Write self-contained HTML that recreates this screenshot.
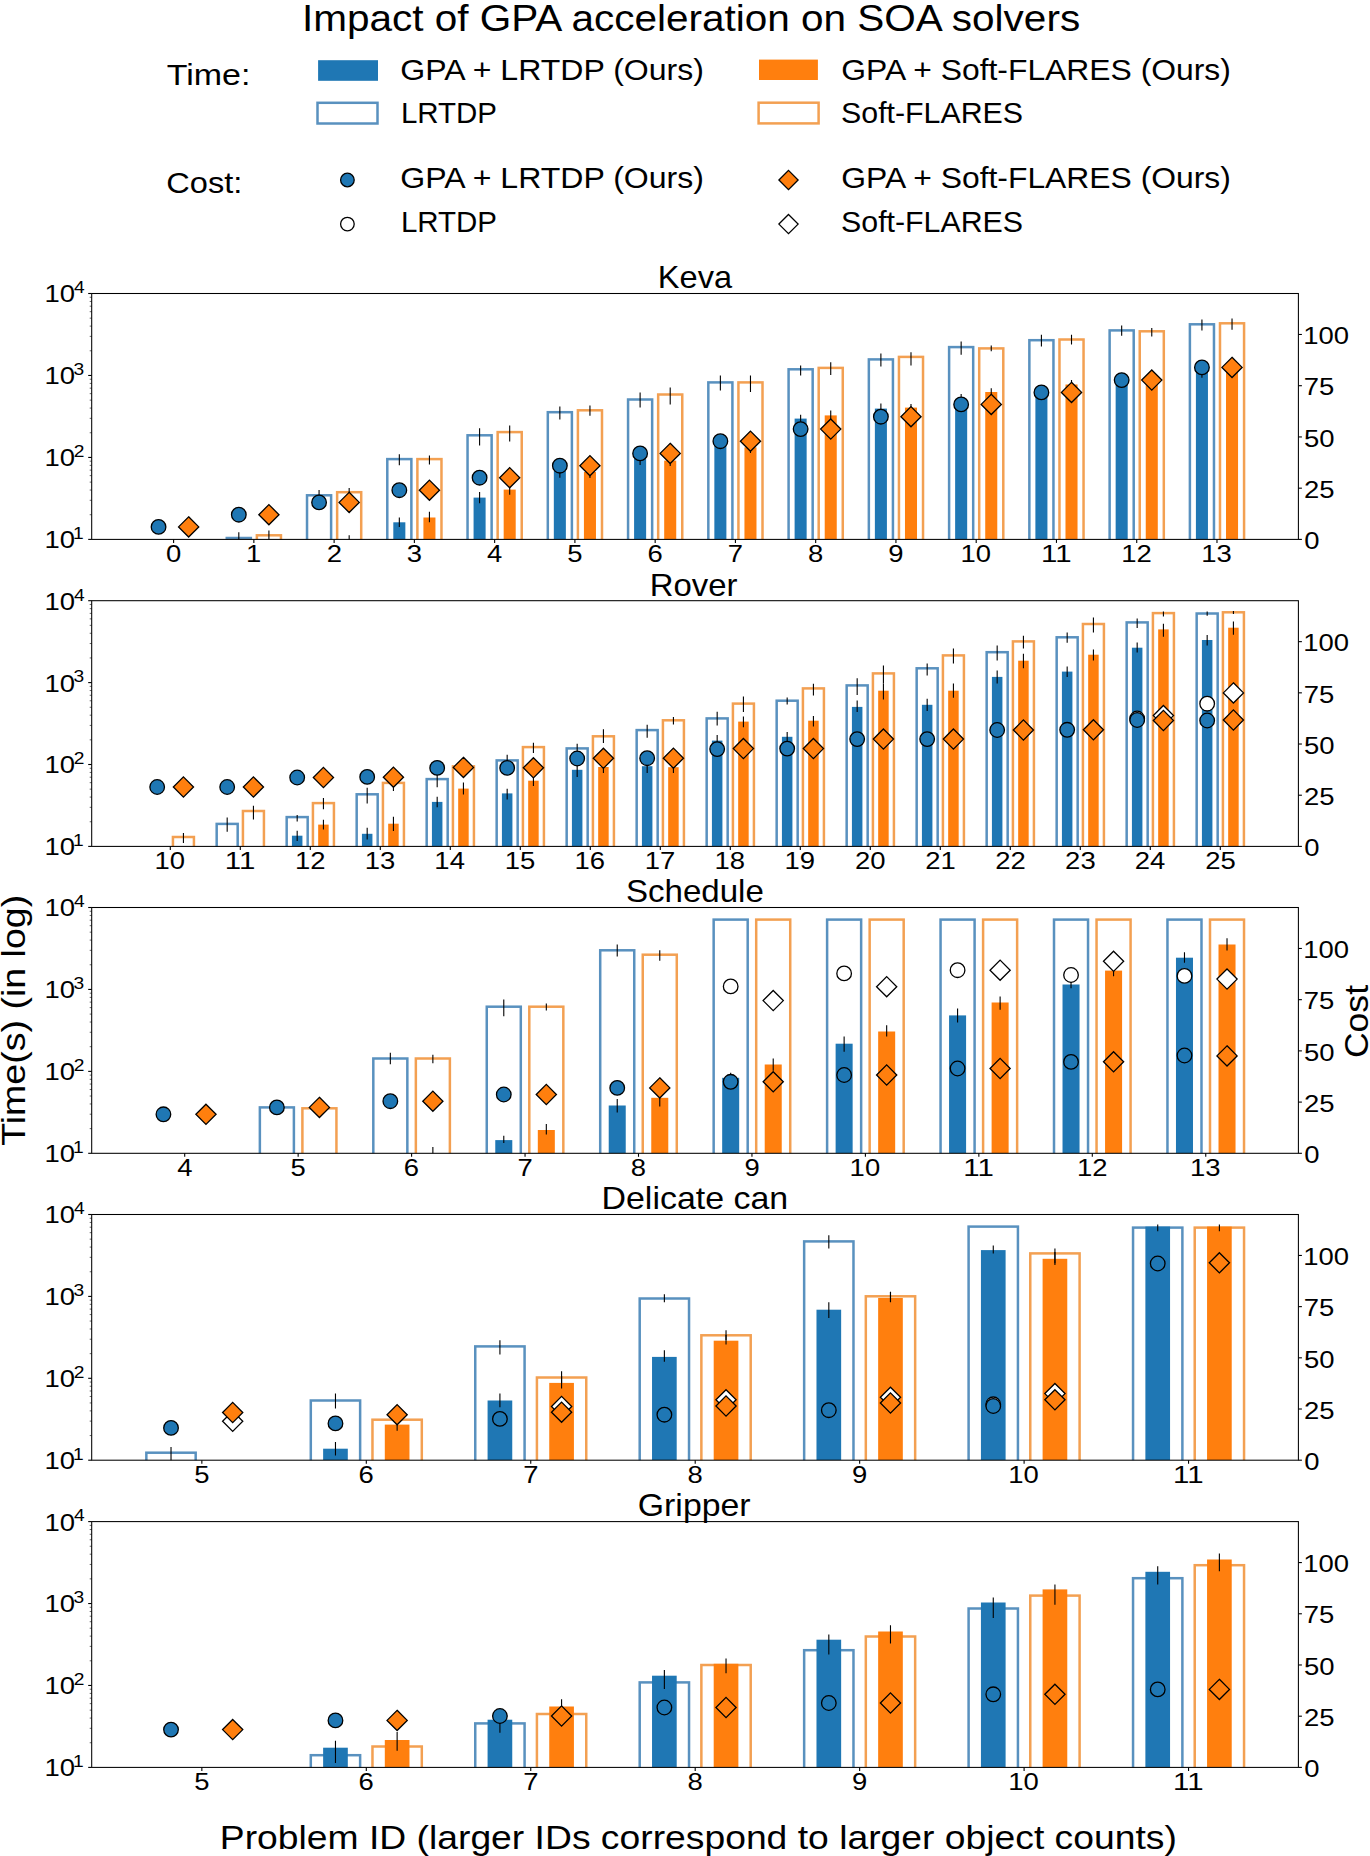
<!DOCTYPE html>
<html><head><meta charset="utf-8"><title>Impact of GPA acceleration on SOA solvers</title>
<style>html,body{margin:0;padding:0;background:#fff;}svg{display:block;}text{font-family:"Liberation Sans",sans-serif;fill:#000;}</style>
</head><body>
<svg width="1370" height="1856" viewBox="0 0 1370 1856">
<rect x="0" y="0" width="1370" height="1856" fill="#fff"/>
<g>
<clipPath id="clip0_293"><rect x="91.7" y="293.5" width="1206.7" height="245.89999999999998"/></clipPath>
<g clip-path="url(#clip0_293)">
<rect x="226.77" y="538.00" width="24.08" height="4.40" fill="none" stroke="#5991bf" stroke-width="2.5"/>
<rect x="256.87" y="535.30" width="24.08" height="7.10" fill="none" stroke="#f3a052" stroke-width="2.5"/>
<rect x="307.03" y="495.30" width="24.08" height="47.10" fill="none" stroke="#5991bf" stroke-width="2.5"/>
<rect x="337.13" y="492.20" width="24.08" height="50.20" fill="none" stroke="#f3a052" stroke-width="2.5"/>
<rect x="387.29" y="459.10" width="24.08" height="83.30" fill="none" stroke="#5991bf" stroke-width="2.5"/>
<rect x="417.39" y="459.10" width="24.08" height="83.30" fill="none" stroke="#f3a052" stroke-width="2.5"/>
<rect x="467.55" y="435.30" width="24.08" height="107.10" fill="none" stroke="#5991bf" stroke-width="2.5"/>
<rect x="497.65" y="432.10" width="24.08" height="110.30" fill="none" stroke="#f3a052" stroke-width="2.5"/>
<rect x="547.81" y="412.20" width="24.08" height="130.20" fill="none" stroke="#5991bf" stroke-width="2.5"/>
<rect x="577.91" y="410.30" width="24.08" height="132.10" fill="none" stroke="#f3a052" stroke-width="2.5"/>
<rect x="628.07" y="399.50" width="24.08" height="142.90" fill="none" stroke="#5991bf" stroke-width="2.5"/>
<rect x="658.17" y="394.50" width="24.08" height="147.90" fill="none" stroke="#f3a052" stroke-width="2.5"/>
<rect x="708.33" y="382.40" width="24.08" height="160.00" fill="none" stroke="#5991bf" stroke-width="2.5"/>
<rect x="738.43" y="382.40" width="24.08" height="160.00" fill="none" stroke="#f3a052" stroke-width="2.5"/>
<rect x="788.59" y="369.30" width="24.08" height="173.10" fill="none" stroke="#5991bf" stroke-width="2.5"/>
<rect x="818.69" y="367.90" width="24.08" height="174.50" fill="none" stroke="#f3a052" stroke-width="2.5"/>
<rect x="868.85" y="359.40" width="24.08" height="183.00" fill="none" stroke="#5991bf" stroke-width="2.5"/>
<rect x="898.95" y="356.90" width="24.08" height="185.50" fill="none" stroke="#f3a052" stroke-width="2.5"/>
<rect x="949.11" y="347.10" width="24.08" height="195.30" fill="none" stroke="#5991bf" stroke-width="2.5"/>
<rect x="979.21" y="348.40" width="24.08" height="194.00" fill="none" stroke="#f3a052" stroke-width="2.5"/>
<rect x="1029.37" y="340.20" width="24.08" height="202.20" fill="none" stroke="#5991bf" stroke-width="2.5"/>
<rect x="1059.47" y="339.50" width="24.08" height="202.90" fill="none" stroke="#f3a052" stroke-width="2.5"/>
<rect x="1109.63" y="330.40" width="24.08" height="212.00" fill="none" stroke="#5991bf" stroke-width="2.5"/>
<rect x="1139.73" y="331.30" width="24.08" height="211.10" fill="none" stroke="#f3a052" stroke-width="2.5"/>
<rect x="1189.89" y="324.30" width="24.08" height="218.10" fill="none" stroke="#5991bf" stroke-width="2.5"/>
<rect x="1219.99" y="323.30" width="24.08" height="219.10" fill="none" stroke="#f3a052" stroke-width="2.5"/>
<rect x="393.31" y="522.30" width="12.04" height="17.10" fill="#1f77b4"/>
<rect x="423.41" y="517.50" width="12.04" height="21.90" fill="#ff7f0e"/>
<rect x="473.57" y="497.60" width="12.04" height="41.80" fill="#1f77b4"/>
<rect x="503.67" y="489.60" width="12.04" height="49.80" fill="#ff7f0e"/>
<rect x="553.83" y="471.00" width="12.04" height="68.40" fill="#1f77b4"/>
<rect x="583.93" y="472.00" width="12.04" height="67.40" fill="#ff7f0e"/>
<rect x="634.09" y="458.70" width="12.04" height="80.70" fill="#1f77b4"/>
<rect x="664.19" y="460.60" width="12.04" height="78.80" fill="#ff7f0e"/>
<rect x="714.35" y="443.50" width="12.04" height="95.90" fill="#1f77b4"/>
<rect x="744.45" y="447.30" width="12.04" height="92.10" fill="#ff7f0e"/>
<rect x="794.61" y="418.60" width="12.04" height="120.80" fill="#1f77b4"/>
<rect x="824.71" y="415.40" width="12.04" height="124.00" fill="#ff7f0e"/>
<rect x="874.87" y="408.60" width="12.04" height="130.80" fill="#1f77b4"/>
<rect x="904.97" y="407.60" width="12.04" height="131.80" fill="#ff7f0e"/>
<rect x="955.13" y="400.00" width="12.04" height="139.40" fill="#1f77b4"/>
<rect x="985.23" y="392.00" width="12.04" height="147.40" fill="#ff7f0e"/>
<rect x="1035.39" y="390.00" width="12.04" height="149.40" fill="#1f77b4"/>
<rect x="1065.49" y="384.50" width="12.04" height="154.90" fill="#ff7f0e"/>
<rect x="1115.65" y="378.00" width="12.04" height="161.40" fill="#1f77b4"/>
<rect x="1145.75" y="378.00" width="12.04" height="161.40" fill="#ff7f0e"/>
<rect x="1195.91" y="370.20" width="12.04" height="169.20" fill="#1f77b4"/>
<rect x="1226.01" y="370.20" width="12.04" height="169.20" fill="#ff7f0e"/>
<line x1="238.81" y1="532.20" x2="238.81" y2="543.00" stroke="#000" stroke-width="1.1"/>
<line x1="268.91" y1="530.40" x2="268.91" y2="541.00" stroke="#000" stroke-width="1.1"/>
<line x1="319.07" y1="490.10" x2="319.07" y2="501.00" stroke="#000" stroke-width="1.1"/>
<line x1="349.17" y1="488.00" x2="349.17" y2="497.50" stroke="#000" stroke-width="1.1"/>
<line x1="349.17" y1="535.20" x2="349.17" y2="541.00" stroke="#000" stroke-width="1.1"/>
<line x1="399.33" y1="454.30" x2="399.33" y2="465.30" stroke="#000" stroke-width="1.1"/>
<line x1="429.43" y1="455.50" x2="429.43" y2="464.40" stroke="#000" stroke-width="1.1"/>
<line x1="399.33" y1="517.50" x2="399.33" y2="527.00" stroke="#000" stroke-width="1.1"/>
<line x1="429.43" y1="511.80" x2="429.43" y2="522.30" stroke="#000" stroke-width="1.1"/>
<line x1="479.59" y1="428.30" x2="479.59" y2="445.40" stroke="#000" stroke-width="1.1"/>
<line x1="509.69" y1="425.50" x2="509.69" y2="441.60" stroke="#000" stroke-width="1.1"/>
<line x1="479.59" y1="491.90" x2="479.59" y2="503.30" stroke="#000" stroke-width="1.1"/>
<line x1="509.69" y1="485.30" x2="509.69" y2="494.70" stroke="#000" stroke-width="1.1"/>
<line x1="559.85" y1="406.50" x2="559.85" y2="419.50" stroke="#000" stroke-width="1.1"/>
<line x1="589.95" y1="405.50" x2="589.95" y2="415.80" stroke="#000" stroke-width="1.1"/>
<line x1="559.85" y1="465.00" x2="559.85" y2="477.70" stroke="#000" stroke-width="1.1"/>
<line x1="589.95" y1="466.00" x2="589.95" y2="478.00" stroke="#000" stroke-width="1.1"/>
<line x1="640.11" y1="392.60" x2="640.11" y2="407.40" stroke="#000" stroke-width="1.1"/>
<line x1="670.21" y1="387.50" x2="670.21" y2="404.60" stroke="#000" stroke-width="1.1"/>
<line x1="640.11" y1="452.00" x2="640.11" y2="465.00" stroke="#000" stroke-width="1.1"/>
<line x1="670.21" y1="455.00" x2="670.21" y2="466.00" stroke="#000" stroke-width="1.1"/>
<line x1="720.37" y1="375.60" x2="720.37" y2="390.40" stroke="#000" stroke-width="1.1"/>
<line x1="750.47" y1="375.60" x2="750.47" y2="391.90" stroke="#000" stroke-width="1.1"/>
<line x1="720.37" y1="438.00" x2="720.37" y2="449.00" stroke="#000" stroke-width="1.1"/>
<line x1="750.47" y1="441.00" x2="750.47" y2="453.00" stroke="#000" stroke-width="1.1"/>
<line x1="800.63" y1="365.50" x2="800.63" y2="375.50" stroke="#000" stroke-width="1.1"/>
<line x1="830.73" y1="362.30" x2="830.73" y2="375.00" stroke="#000" stroke-width="1.1"/>
<line x1="800.63" y1="414.80" x2="800.63" y2="424.00" stroke="#000" stroke-width="1.1"/>
<line x1="830.73" y1="410.50" x2="830.73" y2="421.00" stroke="#000" stroke-width="1.1"/>
<line x1="880.89" y1="353.50" x2="880.89" y2="366.40" stroke="#000" stroke-width="1.1"/>
<line x1="910.99" y1="352.20" x2="910.99" y2="365.50" stroke="#000" stroke-width="1.1"/>
<line x1="880.89" y1="403.40" x2="880.89" y2="414.00" stroke="#000" stroke-width="1.1"/>
<line x1="910.99" y1="404.00" x2="910.99" y2="412.00" stroke="#000" stroke-width="1.1"/>
<line x1="961.15" y1="341.40" x2="961.15" y2="354.70" stroke="#000" stroke-width="1.1"/>
<line x1="991.25" y1="345.50" x2="991.25" y2="351.20" stroke="#000" stroke-width="1.1"/>
<line x1="961.15" y1="394.00" x2="961.15" y2="406.00" stroke="#000" stroke-width="1.1"/>
<line x1="991.25" y1="388.30" x2="991.25" y2="396.00" stroke="#000" stroke-width="1.1"/>
<line x1="1041.41" y1="334.70" x2="1041.41" y2="346.50" stroke="#000" stroke-width="1.1"/>
<line x1="1071.51" y1="334.70" x2="1071.51" y2="344.60" stroke="#000" stroke-width="1.1"/>
<line x1="1041.41" y1="385.00" x2="1041.41" y2="396.00" stroke="#000" stroke-width="1.1"/>
<line x1="1071.51" y1="380.00" x2="1071.51" y2="389.00" stroke="#000" stroke-width="1.1"/>
<line x1="1121.67" y1="325.60" x2="1121.67" y2="335.70" stroke="#000" stroke-width="1.1"/>
<line x1="1151.77" y1="328.10" x2="1151.77" y2="336.40" stroke="#000" stroke-width="1.1"/>
<line x1="1121.67" y1="373.00" x2="1121.67" y2="383.00" stroke="#000" stroke-width="1.1"/>
<line x1="1151.77" y1="373.00" x2="1151.77" y2="383.00" stroke="#000" stroke-width="1.1"/>
<line x1="1201.93" y1="319.50" x2="1201.93" y2="330.40" stroke="#000" stroke-width="1.1"/>
<line x1="1232.03" y1="318.40" x2="1232.03" y2="329.80" stroke="#000" stroke-width="1.1"/>
<line x1="1201.93" y1="364.00" x2="1201.93" y2="377.80" stroke="#000" stroke-width="1.1"/>
<line x1="1232.03" y1="365.00" x2="1232.03" y2="376.00" stroke="#000" stroke-width="1.1"/>
</g>
<circle cx="158.55" cy="526.90" r="7.3" fill="#1f77b4" stroke="#000" stroke-width="1.3"/>
<path d="M188.65 516.80L198.75 526.90L188.65 537.00L178.55 526.90Z" fill="#ff7f0e" stroke="#000" stroke-width="1.3" stroke-linejoin="miter"/>
<circle cx="238.81" cy="514.70" r="7.3" fill="#1f77b4" stroke="#000" stroke-width="1.3"/>
<path d="M268.91 504.60L279.01 514.70L268.91 524.80L258.81 514.70Z" fill="#ff7f0e" stroke="#000" stroke-width="1.3" stroke-linejoin="miter"/>
<circle cx="319.07" cy="502.40" r="7.3" fill="#1f77b4" stroke="#000" stroke-width="1.3"/>
<path d="M349.17 492.30L359.27 502.40L349.17 512.50L339.07 502.40Z" fill="#ff7f0e" stroke="#000" stroke-width="1.3" stroke-linejoin="miter"/>
<circle cx="399.33" cy="490.20" r="7.3" fill="#1f77b4" stroke="#000" stroke-width="1.3"/>
<path d="M429.43 480.10L439.53 490.20L429.43 500.30L419.33 490.20Z" fill="#ff7f0e" stroke="#000" stroke-width="1.3" stroke-linejoin="miter"/>
<circle cx="479.59" cy="477.70" r="7.3" fill="#1f77b4" stroke="#000" stroke-width="1.3"/>
<path d="M509.69 467.60L519.79 477.70L509.69 487.80L499.59 477.70Z" fill="#ff7f0e" stroke="#000" stroke-width="1.3" stroke-linejoin="miter"/>
<circle cx="559.85" cy="465.70" r="7.3" fill="#1f77b4" stroke="#000" stroke-width="1.3"/>
<path d="M589.95 455.60L600.05 465.70L589.95 475.80L579.85 465.70Z" fill="#ff7f0e" stroke="#000" stroke-width="1.3" stroke-linejoin="miter"/>
<circle cx="640.11" cy="453.40" r="7.3" fill="#1f77b4" stroke="#000" stroke-width="1.3"/>
<path d="M670.21 443.30L680.31 453.40L670.21 463.50L660.11 453.40Z" fill="#ff7f0e" stroke="#000" stroke-width="1.3" stroke-linejoin="miter"/>
<circle cx="720.37" cy="441.20" r="7.3" fill="#1f77b4" stroke="#000" stroke-width="1.3"/>
<path d="M750.47 431.10L760.57 441.20L750.47 451.30L740.37 441.20Z" fill="#ff7f0e" stroke="#000" stroke-width="1.3" stroke-linejoin="miter"/>
<circle cx="800.63" cy="429.10" r="7.3" fill="#1f77b4" stroke="#000" stroke-width="1.3"/>
<path d="M830.73 419.00L840.83 429.10L830.73 439.20L820.63 429.10Z" fill="#ff7f0e" stroke="#000" stroke-width="1.3" stroke-linejoin="miter"/>
<circle cx="880.89" cy="416.70" r="7.3" fill="#1f77b4" stroke="#000" stroke-width="1.3"/>
<path d="M910.99 406.60L921.09 416.70L910.99 426.80L900.89 416.70Z" fill="#ff7f0e" stroke="#000" stroke-width="1.3" stroke-linejoin="miter"/>
<circle cx="961.15" cy="404.40" r="7.3" fill="#1f77b4" stroke="#000" stroke-width="1.3"/>
<path d="M991.25 394.30L1001.35 404.40L991.25 414.50L981.15 404.40Z" fill="#ff7f0e" stroke="#000" stroke-width="1.3" stroke-linejoin="miter"/>
<circle cx="1041.41" cy="392.40" r="7.3" fill="#1f77b4" stroke="#000" stroke-width="1.3"/>
<path d="M1071.51 382.30L1081.61 392.40L1071.51 402.50L1061.41 392.40Z" fill="#ff7f0e" stroke="#000" stroke-width="1.3" stroke-linejoin="miter"/>
<circle cx="1121.67" cy="380.10" r="7.3" fill="#1f77b4" stroke="#000" stroke-width="1.3"/>
<path d="M1151.77 370.00L1161.87 380.10L1151.77 390.20L1141.67 380.10Z" fill="#ff7f0e" stroke="#000" stroke-width="1.3" stroke-linejoin="miter"/>
<circle cx="1201.93" cy="367.40" r="7.3" fill="#1f77b4" stroke="#000" stroke-width="1.3"/>
<path d="M1232.03 357.30L1242.13 367.40L1232.03 377.50L1221.93 367.40Z" fill="#ff7f0e" stroke="#000" stroke-width="1.3" stroke-linejoin="miter"/>
<rect x="91.7" y="293.5" width="1206.7" height="245.89999999999998" fill="none" stroke="#000" stroke-width="1.05"/>
<line x1="173.60" y1="539.4" x2="173.60" y2="542.9" stroke="#000" stroke-width="1.1"/>
<text x="165.97" y="562.10" font-size="24.43" textLength="15.27" lengthAdjust="spacingAndGlyphs">0</text>
<line x1="253.86" y1="539.4" x2="253.86" y2="542.9" stroke="#000" stroke-width="1.1"/>
<text x="246.01" y="562.10" font-size="24.43" textLength="15.27" lengthAdjust="spacingAndGlyphs">1</text>
<line x1="334.12" y1="539.4" x2="334.12" y2="542.9" stroke="#000" stroke-width="1.1"/>
<text x="326.81" y="562.10" font-size="24.43" textLength="15.27" lengthAdjust="spacingAndGlyphs">2</text>
<line x1="414.38" y1="539.4" x2="414.38" y2="542.9" stroke="#000" stroke-width="1.1"/>
<text x="406.79" y="562.10" font-size="24.43" textLength="15.27" lengthAdjust="spacingAndGlyphs">3</text>
<line x1="494.64" y1="539.4" x2="494.64" y2="542.9" stroke="#000" stroke-width="1.1"/>
<text x="487.09" y="562.10" font-size="24.43" textLength="15.27" lengthAdjust="spacingAndGlyphs">4</text>
<line x1="574.90" y1="539.4" x2="574.90" y2="542.9" stroke="#000" stroke-width="1.1"/>
<text x="567.39" y="562.10" font-size="24.43" textLength="15.27" lengthAdjust="spacingAndGlyphs">5</text>
<line x1="655.16" y1="539.4" x2="655.16" y2="542.9" stroke="#000" stroke-width="1.1"/>
<text x="647.44" y="562.10" font-size="24.43" textLength="15.27" lengthAdjust="spacingAndGlyphs">6</text>
<line x1="735.42" y1="539.4" x2="735.42" y2="542.9" stroke="#000" stroke-width="1.1"/>
<text x="727.83" y="562.10" font-size="24.43" textLength="15.27" lengthAdjust="spacingAndGlyphs">7</text>
<line x1="815.68" y1="539.4" x2="815.68" y2="542.9" stroke="#000" stroke-width="1.1"/>
<text x="808.05" y="562.10" font-size="24.43" textLength="15.27" lengthAdjust="spacingAndGlyphs">8</text>
<line x1="895.94" y1="539.4" x2="895.94" y2="542.9" stroke="#000" stroke-width="1.1"/>
<text x="888.39" y="562.10" font-size="24.43" textLength="15.27" lengthAdjust="spacingAndGlyphs">9</text>
<line x1="976.20" y1="539.4" x2="976.20" y2="542.9" stroke="#000" stroke-width="1.1"/>
<text x="960.41" y="562.10" font-size="24.43" textLength="30.54" lengthAdjust="spacingAndGlyphs">10</text>
<line x1="1056.46" y1="539.4" x2="1056.46" y2="542.9" stroke="#000" stroke-width="1.1"/>
<text x="1040.98" y="562.10" font-size="24.43" textLength="30.54" lengthAdjust="spacingAndGlyphs">11</text>
<line x1="1136.72" y1="539.4" x2="1136.72" y2="542.9" stroke="#000" stroke-width="1.1"/>
<text x="1121.33" y="562.10" font-size="24.43" textLength="30.54" lengthAdjust="spacingAndGlyphs">12</text>
<line x1="1216.98" y1="539.4" x2="1216.98" y2="542.9" stroke="#000" stroke-width="1.1"/>
<text x="1201.35" y="562.10" font-size="24.43" textLength="30.54" lengthAdjust="spacingAndGlyphs">13</text>
<line x1="88.2" y1="539.40" x2="91.7" y2="539.40" stroke="#000" stroke-width="1.1"/>
<text x="44.56" y="548.30" font-size="24.43" textLength="30.54" lengthAdjust="spacingAndGlyphs">10</text>
<text x="73.05" y="539.20" font-size="17.10" textLength="10.69" lengthAdjust="spacingAndGlyphs">1</text>
<line x1="89.7" y1="514.73" x2="91.7" y2="514.73" stroke="#000" stroke-width="0.6"/>
<line x1="89.7" y1="500.29" x2="91.7" y2="500.29" stroke="#000" stroke-width="0.6"/>
<line x1="89.7" y1="490.05" x2="91.7" y2="490.05" stroke="#000" stroke-width="0.6"/>
<line x1="89.7" y1="482.11" x2="91.7" y2="482.11" stroke="#000" stroke-width="0.6"/>
<line x1="89.7" y1="475.62" x2="91.7" y2="475.62" stroke="#000" stroke-width="0.6"/>
<line x1="89.7" y1="470.13" x2="91.7" y2="470.13" stroke="#000" stroke-width="0.6"/>
<line x1="89.7" y1="465.38" x2="91.7" y2="465.38" stroke="#000" stroke-width="0.6"/>
<line x1="89.7" y1="461.18" x2="91.7" y2="461.18" stroke="#000" stroke-width="0.6"/>
<line x1="88.2" y1="457.43" x2="91.7" y2="457.43" stroke="#000" stroke-width="1.1"/>
<text x="44.56" y="466.33" font-size="24.43" textLength="30.54" lengthAdjust="spacingAndGlyphs">10</text>
<text x="73.67" y="457.23" font-size="17.10" textLength="10.69" lengthAdjust="spacingAndGlyphs">2</text>
<line x1="89.7" y1="432.76" x2="91.7" y2="432.76" stroke="#000" stroke-width="0.6"/>
<line x1="89.7" y1="418.33" x2="91.7" y2="418.33" stroke="#000" stroke-width="0.6"/>
<line x1="89.7" y1="408.08" x2="91.7" y2="408.08" stroke="#000" stroke-width="0.6"/>
<line x1="89.7" y1="400.14" x2="91.7" y2="400.14" stroke="#000" stroke-width="0.6"/>
<line x1="89.7" y1="393.65" x2="91.7" y2="393.65" stroke="#000" stroke-width="0.6"/>
<line x1="89.7" y1="388.16" x2="91.7" y2="388.16" stroke="#000" stroke-width="0.6"/>
<line x1="89.7" y1="383.41" x2="91.7" y2="383.41" stroke="#000" stroke-width="0.6"/>
<line x1="89.7" y1="379.22" x2="91.7" y2="379.22" stroke="#000" stroke-width="0.6"/>
<line x1="88.2" y1="375.47" x2="91.7" y2="375.47" stroke="#000" stroke-width="1.1"/>
<text x="44.56" y="384.37" font-size="24.43" textLength="30.54" lengthAdjust="spacingAndGlyphs">10</text>
<text x="73.62" y="375.27" font-size="17.10" textLength="10.69" lengthAdjust="spacingAndGlyphs">3</text>
<line x1="89.7" y1="350.79" x2="91.7" y2="350.79" stroke="#000" stroke-width="0.6"/>
<line x1="89.7" y1="336.36" x2="91.7" y2="336.36" stroke="#000" stroke-width="0.6"/>
<line x1="89.7" y1="326.12" x2="91.7" y2="326.12" stroke="#000" stroke-width="0.6"/>
<line x1="89.7" y1="318.17" x2="91.7" y2="318.17" stroke="#000" stroke-width="0.6"/>
<line x1="89.7" y1="311.68" x2="91.7" y2="311.68" stroke="#000" stroke-width="0.6"/>
<line x1="89.7" y1="306.20" x2="91.7" y2="306.20" stroke="#000" stroke-width="0.6"/>
<line x1="89.7" y1="301.44" x2="91.7" y2="301.44" stroke="#000" stroke-width="0.6"/>
<line x1="89.7" y1="297.25" x2="91.7" y2="297.25" stroke="#000" stroke-width="0.6"/>
<line x1="88.2" y1="293.50" x2="91.7" y2="293.50" stroke="#000" stroke-width="1.1"/>
<text x="44.56" y="302.40" font-size="24.43" textLength="30.54" lengthAdjust="spacingAndGlyphs">10</text>
<text x="74.08" y="293.30" font-size="17.10" textLength="10.69" lengthAdjust="spacingAndGlyphs">4</text>
<line x1="1298.4" y1="539.40" x2="1301.9" y2="539.40" stroke="#000" stroke-width="1.1"/>
<text x="1304.22" y="549.10" font-size="24.43" textLength="15.27" lengthAdjust="spacingAndGlyphs">0</text>
<line x1="1298.4" y1="488.17" x2="1301.9" y2="488.17" stroke="#000" stroke-width="1.1"/>
<text x="1304.04" y="497.87" font-size="24.43" textLength="30.54" lengthAdjust="spacingAndGlyphs">25</text>
<line x1="1298.4" y1="436.94" x2="1301.9" y2="436.94" stroke="#000" stroke-width="1.1"/>
<text x="1303.95" y="446.64" font-size="24.43" textLength="30.54" lengthAdjust="spacingAndGlyphs">50</text>
<line x1="1298.4" y1="385.71" x2="1301.9" y2="385.71" stroke="#000" stroke-width="1.1"/>
<text x="1303.83" y="395.41" font-size="24.43" textLength="30.54" lengthAdjust="spacingAndGlyphs">75</text>
<line x1="1298.4" y1="334.48" x2="1301.9" y2="334.48" stroke="#000" stroke-width="1.1"/>
<text x="1303.16" y="344.18" font-size="24.43" textLength="45.81" lengthAdjust="spacingAndGlyphs">100</text>
<text x="657.81" y="288.30" font-size="30.54" textLength="74.27" lengthAdjust="spacingAndGlyphs">Keva</text>
</g>
<g>
<clipPath id="clip10_600"><rect x="91.7" y="600.7" width="1206.7" height="245.69999999999993"/></clipPath>
<g clip-path="url(#clip10_600)">
<rect x="172.93" y="837.00" width="21.00" height="12.40" fill="none" stroke="#f3a052" stroke-width="2.5"/>
<rect x="216.68" y="823.90" width="21.00" height="25.50" fill="none" stroke="#5991bf" stroke-width="2.5"/>
<rect x="242.93" y="811.00" width="21.00" height="38.40" fill="none" stroke="#f3a052" stroke-width="2.5"/>
<rect x="286.68" y="817.10" width="21.00" height="32.30" fill="none" stroke="#5991bf" stroke-width="2.5"/>
<rect x="312.93" y="803.10" width="21.00" height="46.30" fill="none" stroke="#f3a052" stroke-width="2.5"/>
<rect x="356.68" y="794.30" width="21.00" height="55.10" fill="none" stroke="#5991bf" stroke-width="2.5"/>
<rect x="382.93" y="782.90" width="21.00" height="66.50" fill="none" stroke="#f3a052" stroke-width="2.5"/>
<rect x="426.68" y="779.10" width="21.00" height="70.30" fill="none" stroke="#5991bf" stroke-width="2.5"/>
<rect x="452.93" y="766.40" width="21.00" height="83.00" fill="none" stroke="#f3a052" stroke-width="2.5"/>
<rect x="496.67" y="760.40" width="21.00" height="89.00" fill="none" stroke="#5991bf" stroke-width="2.5"/>
<rect x="522.92" y="747.10" width="21.00" height="102.30" fill="none" stroke="#f3a052" stroke-width="2.5"/>
<rect x="566.67" y="748.40" width="21.00" height="101.00" fill="none" stroke="#5991bf" stroke-width="2.5"/>
<rect x="592.92" y="736.30" width="21.00" height="113.10" fill="none" stroke="#f3a052" stroke-width="2.5"/>
<rect x="636.67" y="730.10" width="21.00" height="119.30" fill="none" stroke="#5991bf" stroke-width="2.5"/>
<rect x="662.92" y="720.30" width="21.00" height="129.10" fill="none" stroke="#f3a052" stroke-width="2.5"/>
<rect x="706.67" y="718.40" width="21.00" height="131.00" fill="none" stroke="#5991bf" stroke-width="2.5"/>
<rect x="732.92" y="703.60" width="21.00" height="145.80" fill="none" stroke="#f3a052" stroke-width="2.5"/>
<rect x="776.67" y="700.70" width="21.00" height="148.70" fill="none" stroke="#5991bf" stroke-width="2.5"/>
<rect x="802.92" y="688.40" width="21.00" height="161.00" fill="none" stroke="#f3a052" stroke-width="2.5"/>
<rect x="846.67" y="685.40" width="21.00" height="164.00" fill="none" stroke="#5991bf" stroke-width="2.5"/>
<rect x="872.92" y="673.40" width="21.00" height="176.00" fill="none" stroke="#f3a052" stroke-width="2.5"/>
<rect x="916.67" y="668.30" width="21.00" height="181.10" fill="none" stroke="#5991bf" stroke-width="2.5"/>
<rect x="942.92" y="655.40" width="21.00" height="194.00" fill="none" stroke="#f3a052" stroke-width="2.5"/>
<rect x="986.67" y="652.20" width="21.00" height="197.20" fill="none" stroke="#5991bf" stroke-width="2.5"/>
<rect x="1012.92" y="641.40" width="21.00" height="208.00" fill="none" stroke="#f3a052" stroke-width="2.5"/>
<rect x="1056.67" y="637.30" width="21.00" height="212.10" fill="none" stroke="#5991bf" stroke-width="2.5"/>
<rect x="1082.92" y="624.00" width="21.00" height="225.40" fill="none" stroke="#f3a052" stroke-width="2.5"/>
<rect x="1126.67" y="622.40" width="21.00" height="227.00" fill="none" stroke="#5991bf" stroke-width="2.5"/>
<rect x="1152.92" y="613.10" width="21.00" height="236.30" fill="none" stroke="#f3a052" stroke-width="2.5"/>
<rect x="1196.67" y="613.50" width="21.00" height="235.90" fill="none" stroke="#5991bf" stroke-width="2.5"/>
<rect x="1222.92" y="612.30" width="21.00" height="237.10" fill="none" stroke="#f3a052" stroke-width="2.5"/>
<rect x="291.93" y="835.70" width="10.50" height="10.70" fill="#1f77b4"/>
<rect x="318.18" y="824.60" width="10.50" height="21.80" fill="#ff7f0e"/>
<rect x="361.93" y="833.80" width="10.50" height="12.60" fill="#1f77b4"/>
<rect x="388.18" y="823.70" width="10.50" height="22.70" fill="#ff7f0e"/>
<rect x="431.93" y="801.90" width="10.50" height="44.50" fill="#1f77b4"/>
<rect x="458.18" y="788.60" width="10.50" height="57.80" fill="#ff7f0e"/>
<rect x="501.92" y="793.40" width="10.50" height="53.00" fill="#1f77b4"/>
<rect x="528.17" y="780.70" width="10.50" height="65.70" fill="#ff7f0e"/>
<rect x="571.92" y="769.80" width="10.50" height="76.60" fill="#1f77b4"/>
<rect x="598.17" y="767.00" width="10.50" height="79.40" fill="#ff7f0e"/>
<rect x="641.92" y="766.20" width="10.50" height="80.20" fill="#1f77b4"/>
<rect x="668.17" y="767.20" width="10.50" height="79.20" fill="#ff7f0e"/>
<rect x="711.92" y="740.60" width="10.50" height="105.80" fill="#1f77b4"/>
<rect x="738.17" y="721.60" width="10.50" height="124.80" fill="#ff7f0e"/>
<rect x="781.92" y="736.80" width="10.50" height="109.60" fill="#1f77b4"/>
<rect x="808.17" y="720.70" width="10.50" height="125.70" fill="#ff7f0e"/>
<rect x="851.92" y="706.90" width="10.50" height="139.50" fill="#1f77b4"/>
<rect x="878.17" y="690.70" width="10.50" height="155.70" fill="#ff7f0e"/>
<rect x="921.92" y="704.80" width="10.50" height="141.60" fill="#1f77b4"/>
<rect x="948.17" y="690.70" width="10.50" height="155.70" fill="#ff7f0e"/>
<rect x="991.92" y="676.90" width="10.50" height="169.50" fill="#1f77b4"/>
<rect x="1018.17" y="660.70" width="10.50" height="185.70" fill="#ff7f0e"/>
<rect x="1061.92" y="671.60" width="10.50" height="174.80" fill="#1f77b4"/>
<rect x="1088.17" y="654.70" width="10.50" height="191.70" fill="#ff7f0e"/>
<rect x="1131.92" y="647.70" width="10.50" height="198.70" fill="#1f77b4"/>
<rect x="1158.17" y="629.40" width="10.50" height="217.00" fill="#ff7f0e"/>
<rect x="1201.92" y="640.00" width="10.50" height="206.40" fill="#1f77b4"/>
<rect x="1228.17" y="627.70" width="10.50" height="218.70" fill="#ff7f0e"/>
<line x1="183.43" y1="833.00" x2="183.43" y2="843.00" stroke="#000" stroke-width="1.1"/>
<line x1="227.18" y1="817.60" x2="227.18" y2="831.80" stroke="#000" stroke-width="1.1"/>
<line x1="253.43" y1="805.80" x2="253.43" y2="819.40" stroke="#000" stroke-width="1.1"/>
<line x1="297.18" y1="814.90" x2="297.18" y2="821.60" stroke="#000" stroke-width="1.1"/>
<line x1="323.43" y1="797.90" x2="323.43" y2="809.20" stroke="#000" stroke-width="1.1"/>
<line x1="297.18" y1="830.70" x2="297.18" y2="840.90" stroke="#000" stroke-width="1.1"/>
<line x1="323.43" y1="819.80" x2="323.43" y2="829.60" stroke="#000" stroke-width="1.1"/>
<line x1="367.18" y1="787.70" x2="367.18" y2="803.40" stroke="#000" stroke-width="1.1"/>
<line x1="393.43" y1="776.00" x2="393.43" y2="791.00" stroke="#000" stroke-width="1.1"/>
<line x1="367.18" y1="827.70" x2="367.18" y2="839.50" stroke="#000" stroke-width="1.1"/>
<line x1="393.43" y1="816.70" x2="393.43" y2="831.00" stroke="#000" stroke-width="1.1"/>
<line x1="437.18" y1="771.00" x2="437.18" y2="787.30" stroke="#000" stroke-width="1.1"/>
<line x1="463.43" y1="760.00" x2="463.43" y2="773.00" stroke="#000" stroke-width="1.1"/>
<line x1="437.18" y1="796.80" x2="437.18" y2="807.20" stroke="#000" stroke-width="1.1"/>
<line x1="463.43" y1="782.60" x2="463.43" y2="794.50" stroke="#000" stroke-width="1.1"/>
<line x1="507.17" y1="754.70" x2="507.17" y2="766.00" stroke="#000" stroke-width="1.1"/>
<line x1="533.42" y1="742.70" x2="533.42" y2="753.10" stroke="#000" stroke-width="1.1"/>
<line x1="507.17" y1="788.80" x2="507.17" y2="799.60" stroke="#000" stroke-width="1.1"/>
<line x1="533.42" y1="775.00" x2="533.42" y2="786.00" stroke="#000" stroke-width="1.1"/>
<line x1="577.17" y1="743.70" x2="577.17" y2="753.00" stroke="#000" stroke-width="1.1"/>
<line x1="603.42" y1="729.30" x2="603.42" y2="743.00" stroke="#000" stroke-width="1.1"/>
<line x1="577.17" y1="763.00" x2="577.17" y2="776.90" stroke="#000" stroke-width="1.1"/>
<line x1="603.42" y1="761.00" x2="603.42" y2="773.00" stroke="#000" stroke-width="1.1"/>
<line x1="647.17" y1="724.80" x2="647.17" y2="737.70" stroke="#000" stroke-width="1.1"/>
<line x1="673.42" y1="716.90" x2="673.42" y2="724.50" stroke="#000" stroke-width="1.1"/>
<line x1="647.17" y1="759.50" x2="647.17" y2="772.90" stroke="#000" stroke-width="1.1"/>
<line x1="673.42" y1="761.00" x2="673.42" y2="773.00" stroke="#000" stroke-width="1.1"/>
<line x1="717.17" y1="711.70" x2="717.17" y2="725.40" stroke="#000" stroke-width="1.1"/>
<line x1="743.42" y1="696.60" x2="743.42" y2="712.10" stroke="#000" stroke-width="1.1"/>
<line x1="717.17" y1="734.90" x2="717.17" y2="746.00" stroke="#000" stroke-width="1.1"/>
<line x1="743.42" y1="716.50" x2="743.42" y2="727.30" stroke="#000" stroke-width="1.1"/>
<line x1="787.17" y1="697.50" x2="787.17" y2="704.50" stroke="#000" stroke-width="1.1"/>
<line x1="813.42" y1="683.70" x2="813.42" y2="695.40" stroke="#000" stroke-width="1.1"/>
<line x1="787.17" y1="732.00" x2="787.17" y2="742.00" stroke="#000" stroke-width="1.1"/>
<line x1="813.42" y1="715.90" x2="813.42" y2="726.40" stroke="#000" stroke-width="1.1"/>
<line x1="857.17" y1="678.20" x2="857.17" y2="694.90" stroke="#000" stroke-width="1.1"/>
<line x1="883.42" y1="665.50" x2="883.42" y2="683.50" stroke="#000" stroke-width="1.1"/>
<line x1="857.17" y1="700.60" x2="857.17" y2="712.00" stroke="#000" stroke-width="1.1"/>
<line x1="883.42" y1="683.50" x2="883.42" y2="699.60" stroke="#000" stroke-width="1.1"/>
<line x1="927.17" y1="663.60" x2="927.17" y2="675.50" stroke="#000" stroke-width="1.1"/>
<line x1="953.42" y1="648.40" x2="953.42" y2="663.60" stroke="#000" stroke-width="1.1"/>
<line x1="927.17" y1="698.70" x2="927.17" y2="711.00" stroke="#000" stroke-width="1.1"/>
<line x1="953.42" y1="683.50" x2="953.42" y2="697.70" stroke="#000" stroke-width="1.1"/>
<line x1="997.17" y1="645.50" x2="997.17" y2="660.40" stroke="#000" stroke-width="1.1"/>
<line x1="1023.42" y1="635.70" x2="1023.42" y2="648.40" stroke="#000" stroke-width="1.1"/>
<line x1="997.17" y1="670.60" x2="997.17" y2="683.50" stroke="#000" stroke-width="1.1"/>
<line x1="1023.42" y1="653.70" x2="1023.42" y2="668.30" stroke="#000" stroke-width="1.1"/>
<line x1="1067.17" y1="632.60" x2="1067.17" y2="642.70" stroke="#000" stroke-width="1.1"/>
<line x1="1093.42" y1="617.50" x2="1093.42" y2="632.40" stroke="#000" stroke-width="1.1"/>
<line x1="1067.17" y1="666.50" x2="1067.17" y2="677.00" stroke="#000" stroke-width="1.1"/>
<line x1="1093.42" y1="649.60" x2="1093.42" y2="660.40" stroke="#000" stroke-width="1.1"/>
<line x1="1137.17" y1="618.40" x2="1137.17" y2="628.00" stroke="#000" stroke-width="1.1"/>
<line x1="1163.42" y1="611.40" x2="1163.42" y2="616.60" stroke="#000" stroke-width="1.1"/>
<line x1="1137.17" y1="642.60" x2="1137.17" y2="652.60" stroke="#000" stroke-width="1.1"/>
<line x1="1163.42" y1="623.70" x2="1163.42" y2="636.80" stroke="#000" stroke-width="1.1"/>
<line x1="1207.17" y1="611.40" x2="1207.17" y2="615.80" stroke="#000" stroke-width="1.1"/>
<line x1="1233.42" y1="611.00" x2="1233.42" y2="614.00" stroke="#000" stroke-width="1.1"/>
<line x1="1207.17" y1="635.00" x2="1207.17" y2="645.50" stroke="#000" stroke-width="1.1"/>
<line x1="1233.42" y1="621.40" x2="1233.42" y2="634.70" stroke="#000" stroke-width="1.1"/>
</g>
<circle cx="1137.17" cy="718.50" r="7.3" fill="#fff" stroke="#000" stroke-width="1.3"/>
<path d="M1163.42 705.50L1173.52 715.60L1163.42 725.70L1153.33 715.60Z" fill="#fff" stroke="#000" stroke-width="1.3" stroke-linejoin="miter"/>
<circle cx="1207.17" cy="703.70" r="7.3" fill="#fff" stroke="#000" stroke-width="1.3"/>
<path d="M1233.42 682.80L1243.52 692.90L1233.42 703.00L1223.33 692.90Z" fill="#fff" stroke="#000" stroke-width="1.3" stroke-linejoin="miter"/>
<circle cx="157.18" cy="787.00" r="7.3" fill="#1f77b4" stroke="#000" stroke-width="1.3"/>
<path d="M183.43 776.90L193.53 787.00L183.43 797.10L173.33 787.00Z" fill="#ff7f0e" stroke="#000" stroke-width="1.3" stroke-linejoin="miter"/>
<circle cx="227.18" cy="787.00" r="7.3" fill="#1f77b4" stroke="#000" stroke-width="1.3"/>
<path d="M253.43 776.90L263.53 787.00L253.43 797.10L243.33 787.00Z" fill="#ff7f0e" stroke="#000" stroke-width="1.3" stroke-linejoin="miter"/>
<circle cx="297.18" cy="777.50" r="7.3" fill="#1f77b4" stroke="#000" stroke-width="1.3"/>
<path d="M323.43 767.40L333.53 777.50L323.43 787.60L313.32 777.50Z" fill="#ff7f0e" stroke="#000" stroke-width="1.3" stroke-linejoin="miter"/>
<circle cx="367.18" cy="776.90" r="7.3" fill="#1f77b4" stroke="#000" stroke-width="1.3"/>
<path d="M393.43 767.10L403.53 777.20L393.43 787.30L383.32 777.20Z" fill="#ff7f0e" stroke="#000" stroke-width="1.3" stroke-linejoin="miter"/>
<circle cx="437.18" cy="767.90" r="7.3" fill="#1f77b4" stroke="#000" stroke-width="1.3"/>
<path d="M463.43 757.30L473.53 767.40L463.43 777.50L453.32 767.40Z" fill="#ff7f0e" stroke="#000" stroke-width="1.3" stroke-linejoin="miter"/>
<circle cx="507.17" cy="767.90" r="7.3" fill="#1f77b4" stroke="#000" stroke-width="1.3"/>
<path d="M533.42 757.70L543.52 767.80L533.42 777.90L523.32 767.80Z" fill="#ff7f0e" stroke="#000" stroke-width="1.3" stroke-linejoin="miter"/>
<circle cx="577.17" cy="758.50" r="7.3" fill="#1f77b4" stroke="#000" stroke-width="1.3"/>
<path d="M603.42 748.20L613.52 758.30L603.42 768.40L593.32 758.30Z" fill="#ff7f0e" stroke="#000" stroke-width="1.3" stroke-linejoin="miter"/>
<circle cx="647.17" cy="758.20" r="7.3" fill="#1f77b4" stroke="#000" stroke-width="1.3"/>
<path d="M673.42 748.10L683.52 758.20L673.42 768.30L663.32 758.20Z" fill="#ff7f0e" stroke="#000" stroke-width="1.3" stroke-linejoin="miter"/>
<circle cx="717.17" cy="749.10" r="7.3" fill="#1f77b4" stroke="#000" stroke-width="1.3"/>
<path d="M743.42 738.50L753.52 748.60L743.42 758.70L733.32 748.60Z" fill="#ff7f0e" stroke="#000" stroke-width="1.3" stroke-linejoin="miter"/>
<circle cx="787.17" cy="748.60" r="7.3" fill="#1f77b4" stroke="#000" stroke-width="1.3"/>
<path d="M813.42 738.50L823.52 748.60L813.42 758.70L803.32 748.60Z" fill="#ff7f0e" stroke="#000" stroke-width="1.3" stroke-linejoin="miter"/>
<circle cx="857.17" cy="739.10" r="7.3" fill="#1f77b4" stroke="#000" stroke-width="1.3"/>
<path d="M883.42 729.00L893.52 739.10L883.42 749.20L873.32 739.10Z" fill="#ff7f0e" stroke="#000" stroke-width="1.3" stroke-linejoin="miter"/>
<circle cx="927.17" cy="739.10" r="7.3" fill="#1f77b4" stroke="#000" stroke-width="1.3"/>
<path d="M953.42 729.00L963.52 739.10L953.42 749.20L943.32 739.10Z" fill="#ff7f0e" stroke="#000" stroke-width="1.3" stroke-linejoin="miter"/>
<circle cx="997.17" cy="730.00" r="7.3" fill="#1f77b4" stroke="#000" stroke-width="1.3"/>
<path d="M1023.42 719.90L1033.52 730.00L1023.42 740.10L1013.32 730.00Z" fill="#ff7f0e" stroke="#000" stroke-width="1.3" stroke-linejoin="miter"/>
<circle cx="1067.17" cy="729.80" r="7.3" fill="#1f77b4" stroke="#000" stroke-width="1.3"/>
<path d="M1093.42 719.70L1103.52 729.80L1093.42 739.90L1083.33 729.80Z" fill="#ff7f0e" stroke="#000" stroke-width="1.3" stroke-linejoin="miter"/>
<circle cx="1137.17" cy="720.00" r="7.3" fill="#1f77b4" stroke="#000" stroke-width="1.3"/>
<path d="M1163.42 710.40L1173.52 720.50L1163.42 730.60L1153.33 720.50Z" fill="#ff7f0e" stroke="#000" stroke-width="1.3" stroke-linejoin="miter"/>
<circle cx="1207.17" cy="720.50" r="7.3" fill="#1f77b4" stroke="#000" stroke-width="1.3"/>
<path d="M1233.42 709.90L1243.52 720.00L1233.42 730.10L1223.33 720.00Z" fill="#ff7f0e" stroke="#000" stroke-width="1.3" stroke-linejoin="miter"/>
<rect x="91.7" y="600.7" width="1206.7" height="245.69999999999993" fill="none" stroke="#000" stroke-width="1.05"/>
<line x1="170.30" y1="846.4" x2="170.30" y2="849.9" stroke="#000" stroke-width="1.1"/>
<text x="154.51" y="869.10" font-size="24.43" textLength="30.54" lengthAdjust="spacingAndGlyphs">10</text>
<line x1="240.30" y1="846.4" x2="240.30" y2="849.9" stroke="#000" stroke-width="1.1"/>
<text x="224.82" y="869.10" font-size="24.43" textLength="30.54" lengthAdjust="spacingAndGlyphs">11</text>
<line x1="310.30" y1="846.4" x2="310.30" y2="849.9" stroke="#000" stroke-width="1.1"/>
<text x="294.91" y="869.10" font-size="24.43" textLength="30.54" lengthAdjust="spacingAndGlyphs">12</text>
<line x1="380.30" y1="846.4" x2="380.30" y2="849.9" stroke="#000" stroke-width="1.1"/>
<text x="364.67" y="869.10" font-size="24.43" textLength="30.54" lengthAdjust="spacingAndGlyphs">13</text>
<line x1="450.30" y1="846.4" x2="450.30" y2="849.9" stroke="#000" stroke-width="1.1"/>
<text x="434.39" y="869.10" font-size="24.43" textLength="30.54" lengthAdjust="spacingAndGlyphs">14</text>
<line x1="520.30" y1="846.4" x2="520.30" y2="849.9" stroke="#000" stroke-width="1.1"/>
<text x="504.76" y="869.10" font-size="24.43" textLength="30.54" lengthAdjust="spacingAndGlyphs">15</text>
<line x1="590.30" y1="846.4" x2="590.30" y2="849.9" stroke="#000" stroke-width="1.1"/>
<text x="574.47" y="869.10" font-size="24.43" textLength="30.54" lengthAdjust="spacingAndGlyphs">16</text>
<line x1="660.30" y1="846.4" x2="660.30" y2="849.9" stroke="#000" stroke-width="1.1"/>
<text x="644.74" y="869.10" font-size="24.43" textLength="30.54" lengthAdjust="spacingAndGlyphs">17</text>
<line x1="730.30" y1="846.4" x2="730.30" y2="849.9" stroke="#000" stroke-width="1.1"/>
<text x="714.53" y="869.10" font-size="24.43" textLength="30.54" lengthAdjust="spacingAndGlyphs">18</text>
<line x1="800.30" y1="846.4" x2="800.30" y2="849.9" stroke="#000" stroke-width="1.1"/>
<text x="784.56" y="869.10" font-size="24.43" textLength="30.54" lengthAdjust="spacingAndGlyphs">19</text>
<line x1="870.30" y1="846.4" x2="870.30" y2="849.9" stroke="#000" stroke-width="1.1"/>
<text x="854.95" y="869.10" font-size="24.43" textLength="30.54" lengthAdjust="spacingAndGlyphs">20</text>
<line x1="940.30" y1="846.4" x2="940.30" y2="849.9" stroke="#000" stroke-width="1.1"/>
<text x="925.26" y="869.10" font-size="24.43" textLength="30.54" lengthAdjust="spacingAndGlyphs">21</text>
<line x1="1010.30" y1="846.4" x2="1010.30" y2="849.9" stroke="#000" stroke-width="1.1"/>
<text x="995.35" y="869.10" font-size="24.43" textLength="30.54" lengthAdjust="spacingAndGlyphs">22</text>
<line x1="1080.30" y1="846.4" x2="1080.30" y2="849.9" stroke="#000" stroke-width="1.1"/>
<text x="1065.11" y="869.10" font-size="24.43" textLength="30.54" lengthAdjust="spacingAndGlyphs">23</text>
<line x1="1150.30" y1="846.4" x2="1150.30" y2="849.9" stroke="#000" stroke-width="1.1"/>
<text x="1134.83" y="869.10" font-size="24.43" textLength="30.54" lengthAdjust="spacingAndGlyphs">24</text>
<line x1="1220.30" y1="846.4" x2="1220.30" y2="849.9" stroke="#000" stroke-width="1.1"/>
<text x="1205.20" y="869.10" font-size="24.43" textLength="30.54" lengthAdjust="spacingAndGlyphs">25</text>
<line x1="88.2" y1="846.40" x2="91.7" y2="846.40" stroke="#000" stroke-width="1.1"/>
<text x="44.56" y="855.30" font-size="24.43" textLength="30.54" lengthAdjust="spacingAndGlyphs">10</text>
<text x="73.05" y="846.20" font-size="17.10" textLength="10.69" lengthAdjust="spacingAndGlyphs">1</text>
<line x1="89.7" y1="821.75" x2="91.7" y2="821.75" stroke="#000" stroke-width="0.6"/>
<line x1="89.7" y1="807.32" x2="91.7" y2="807.32" stroke="#000" stroke-width="0.6"/>
<line x1="89.7" y1="797.09" x2="91.7" y2="797.09" stroke="#000" stroke-width="0.6"/>
<line x1="89.7" y1="789.15" x2="91.7" y2="789.15" stroke="#000" stroke-width="0.6"/>
<line x1="89.7" y1="782.67" x2="91.7" y2="782.67" stroke="#000" stroke-width="0.6"/>
<line x1="89.7" y1="777.19" x2="91.7" y2="777.19" stroke="#000" stroke-width="0.6"/>
<line x1="89.7" y1="772.44" x2="91.7" y2="772.44" stroke="#000" stroke-width="0.6"/>
<line x1="89.7" y1="768.25" x2="91.7" y2="768.25" stroke="#000" stroke-width="0.6"/>
<line x1="88.2" y1="764.50" x2="91.7" y2="764.50" stroke="#000" stroke-width="1.1"/>
<text x="44.56" y="773.40" font-size="24.43" textLength="30.54" lengthAdjust="spacingAndGlyphs">10</text>
<text x="73.67" y="764.30" font-size="17.10" textLength="10.69" lengthAdjust="spacingAndGlyphs">2</text>
<line x1="89.7" y1="739.85" x2="91.7" y2="739.85" stroke="#000" stroke-width="0.6"/>
<line x1="89.7" y1="725.42" x2="91.7" y2="725.42" stroke="#000" stroke-width="0.6"/>
<line x1="89.7" y1="715.19" x2="91.7" y2="715.19" stroke="#000" stroke-width="0.6"/>
<line x1="89.7" y1="707.25" x2="91.7" y2="707.25" stroke="#000" stroke-width="0.6"/>
<line x1="89.7" y1="700.77" x2="91.7" y2="700.77" stroke="#000" stroke-width="0.6"/>
<line x1="89.7" y1="695.29" x2="91.7" y2="695.29" stroke="#000" stroke-width="0.6"/>
<line x1="89.7" y1="690.54" x2="91.7" y2="690.54" stroke="#000" stroke-width="0.6"/>
<line x1="89.7" y1="686.35" x2="91.7" y2="686.35" stroke="#000" stroke-width="0.6"/>
<line x1="88.2" y1="682.60" x2="91.7" y2="682.60" stroke="#000" stroke-width="1.1"/>
<text x="44.56" y="691.50" font-size="24.43" textLength="30.54" lengthAdjust="spacingAndGlyphs">10</text>
<text x="73.62" y="682.40" font-size="17.10" textLength="10.69" lengthAdjust="spacingAndGlyphs">3</text>
<line x1="89.7" y1="657.95" x2="91.7" y2="657.95" stroke="#000" stroke-width="0.6"/>
<line x1="89.7" y1="643.52" x2="91.7" y2="643.52" stroke="#000" stroke-width="0.6"/>
<line x1="89.7" y1="633.29" x2="91.7" y2="633.29" stroke="#000" stroke-width="0.6"/>
<line x1="89.7" y1="625.35" x2="91.7" y2="625.35" stroke="#000" stroke-width="0.6"/>
<line x1="89.7" y1="618.87" x2="91.7" y2="618.87" stroke="#000" stroke-width="0.6"/>
<line x1="89.7" y1="613.39" x2="91.7" y2="613.39" stroke="#000" stroke-width="0.6"/>
<line x1="89.7" y1="608.64" x2="91.7" y2="608.64" stroke="#000" stroke-width="0.6"/>
<line x1="89.7" y1="604.45" x2="91.7" y2="604.45" stroke="#000" stroke-width="0.6"/>
<line x1="88.2" y1="600.70" x2="91.7" y2="600.70" stroke="#000" stroke-width="1.1"/>
<text x="44.56" y="609.60" font-size="24.43" textLength="30.54" lengthAdjust="spacingAndGlyphs">10</text>
<text x="74.08" y="600.50" font-size="17.10" textLength="10.69" lengthAdjust="spacingAndGlyphs">4</text>
<line x1="1298.4" y1="846.40" x2="1301.9" y2="846.40" stroke="#000" stroke-width="1.1"/>
<text x="1304.22" y="856.10" font-size="24.43" textLength="15.27" lengthAdjust="spacingAndGlyphs">0</text>
<line x1="1298.4" y1="795.21" x2="1301.9" y2="795.21" stroke="#000" stroke-width="1.1"/>
<text x="1304.04" y="804.91" font-size="24.43" textLength="30.54" lengthAdjust="spacingAndGlyphs">25</text>
<line x1="1298.4" y1="744.02" x2="1301.9" y2="744.02" stroke="#000" stroke-width="1.1"/>
<text x="1303.95" y="753.73" font-size="24.43" textLength="30.54" lengthAdjust="spacingAndGlyphs">50</text>
<line x1="1298.4" y1="692.84" x2="1301.9" y2="692.84" stroke="#000" stroke-width="1.1"/>
<text x="1303.83" y="702.54" font-size="24.43" textLength="30.54" lengthAdjust="spacingAndGlyphs">75</text>
<line x1="1298.4" y1="641.65" x2="1301.9" y2="641.65" stroke="#000" stroke-width="1.1"/>
<text x="1303.16" y="651.35" font-size="24.43" textLength="45.81" lengthAdjust="spacingAndGlyphs">100</text>
<text x="649.71" y="595.50" font-size="30.54" textLength="87.74" lengthAdjust="spacingAndGlyphs">Rover</text>
</g>
<g>
<clipPath id="clip4_907"><rect x="91.7" y="907.5" width="1206.7" height="245.79999999999995"/></clipPath>
<g clip-path="url(#clip4_907)">
<rect x="259.86" y="1107.40" width="34.03" height="48.90" fill="none" stroke="#5991bf" stroke-width="2.5"/>
<rect x="302.40" y="1108.30" width="34.03" height="48.00" fill="none" stroke="#f3a052" stroke-width="2.5"/>
<rect x="373.31" y="1058.50" width="34.03" height="97.80" fill="none" stroke="#5991bf" stroke-width="2.5"/>
<rect x="415.85" y="1058.50" width="34.03" height="97.80" fill="none" stroke="#f3a052" stroke-width="2.5"/>
<rect x="486.76" y="1006.70" width="34.03" height="149.60" fill="none" stroke="#5991bf" stroke-width="2.5"/>
<rect x="529.30" y="1006.70" width="34.03" height="149.60" fill="none" stroke="#f3a052" stroke-width="2.5"/>
<rect x="600.21" y="950.30" width="34.03" height="206.00" fill="none" stroke="#5991bf" stroke-width="2.5"/>
<rect x="642.75" y="954.70" width="34.03" height="201.60" fill="none" stroke="#f3a052" stroke-width="2.5"/>
<rect x="713.66" y="919.60" width="34.03" height="236.70" fill="none" stroke="#5991bf" stroke-width="2.5"/>
<rect x="756.20" y="919.60" width="34.03" height="236.70" fill="none" stroke="#f3a052" stroke-width="2.5"/>
<rect x="827.11" y="919.60" width="34.03" height="236.70" fill="none" stroke="#5991bf" stroke-width="2.5"/>
<rect x="869.65" y="919.60" width="34.03" height="236.70" fill="none" stroke="#f3a052" stroke-width="2.5"/>
<rect x="940.56" y="919.60" width="34.03" height="236.70" fill="none" stroke="#5991bf" stroke-width="2.5"/>
<rect x="983.10" y="919.60" width="34.03" height="236.70" fill="none" stroke="#f3a052" stroke-width="2.5"/>
<rect x="1054.01" y="919.60" width="34.03" height="236.70" fill="none" stroke="#5991bf" stroke-width="2.5"/>
<rect x="1096.55" y="919.60" width="34.03" height="236.70" fill="none" stroke="#f3a052" stroke-width="2.5"/>
<rect x="1167.46" y="919.60" width="34.03" height="236.70" fill="none" stroke="#5991bf" stroke-width="2.5"/>
<rect x="1210.00" y="919.60" width="34.03" height="236.70" fill="none" stroke="#f3a052" stroke-width="2.5"/>
<rect x="495.27" y="1140.10" width="17.02" height="13.20" fill="#1f77b4"/>
<rect x="537.81" y="1130.00" width="17.02" height="23.30" fill="#ff7f0e"/>
<rect x="608.72" y="1105.50" width="17.02" height="47.80" fill="#1f77b4"/>
<rect x="651.26" y="1097.80" width="17.02" height="55.50" fill="#ff7f0e"/>
<rect x="722.17" y="1077.80" width="17.02" height="75.50" fill="#1f77b4"/>
<rect x="764.71" y="1064.50" width="17.02" height="88.80" fill="#ff7f0e"/>
<rect x="835.62" y="1043.70" width="17.02" height="109.60" fill="#1f77b4"/>
<rect x="878.16" y="1031.50" width="17.02" height="121.80" fill="#ff7f0e"/>
<rect x="949.07" y="1015.40" width="17.02" height="137.90" fill="#1f77b4"/>
<rect x="991.61" y="1002.50" width="17.02" height="150.80" fill="#ff7f0e"/>
<rect x="1062.52" y="984.50" width="17.02" height="168.80" fill="#1f77b4"/>
<rect x="1105.06" y="970.60" width="17.02" height="182.70" fill="#ff7f0e"/>
<rect x="1175.97" y="957.70" width="17.02" height="195.60" fill="#1f77b4"/>
<rect x="1218.51" y="944.50" width="17.02" height="208.80" fill="#ff7f0e"/>
<line x1="390.33" y1="1052.80" x2="390.33" y2="1064.20" stroke="#000" stroke-width="1.1"/>
<line x1="432.87" y1="1054.70" x2="432.87" y2="1063.20" stroke="#000" stroke-width="1.1"/>
<line x1="432.87" y1="1147.00" x2="432.87" y2="1155.00" stroke="#000" stroke-width="1.1"/>
<line x1="503.78" y1="999.60" x2="503.78" y2="1016.20" stroke="#000" stroke-width="1.1"/>
<line x1="546.32" y1="1003.40" x2="546.32" y2="1010.50" stroke="#000" stroke-width="1.1"/>
<line x1="503.78" y1="1135.70" x2="503.78" y2="1142.90" stroke="#000" stroke-width="1.1"/>
<line x1="546.32" y1="1124.00" x2="546.32" y2="1134.40" stroke="#000" stroke-width="1.1"/>
<line x1="617.23" y1="944.60" x2="617.23" y2="956.60" stroke="#000" stroke-width="1.1"/>
<line x1="659.77" y1="950.30" x2="659.77" y2="960.70" stroke="#000" stroke-width="1.1"/>
<line x1="617.23" y1="1098.90" x2="617.23" y2="1112.60" stroke="#000" stroke-width="1.1"/>
<line x1="659.77" y1="1093.60" x2="659.77" y2="1106.50" stroke="#000" stroke-width="1.1"/>
<line x1="730.68" y1="1072.70" x2="730.68" y2="1083.00" stroke="#000" stroke-width="1.1"/>
<line x1="773.22" y1="1058.50" x2="773.22" y2="1070.80" stroke="#000" stroke-width="1.1"/>
<line x1="844.13" y1="1036.60" x2="844.13" y2="1051.80" stroke="#000" stroke-width="1.1"/>
<line x1="886.67" y1="1025.30" x2="886.67" y2="1036.60" stroke="#000" stroke-width="1.1"/>
<line x1="957.58" y1="1008.60" x2="957.58" y2="1022.40" stroke="#000" stroke-width="1.1"/>
<line x1="1000.12" y1="996.40" x2="1000.12" y2="1009.70" stroke="#000" stroke-width="1.1"/>
<line x1="1071.03" y1="978.00" x2="1071.03" y2="988.30" stroke="#000" stroke-width="1.1"/>
<line x1="1113.57" y1="965.00" x2="1113.57" y2="976.30" stroke="#000" stroke-width="1.1"/>
<line x1="1184.48" y1="952.30" x2="1184.48" y2="962.80" stroke="#000" stroke-width="1.1"/>
<line x1="1227.02" y1="938.20" x2="1227.02" y2="950.40" stroke="#000" stroke-width="1.1"/>
</g>
<circle cx="730.68" cy="986.40" r="7.3" fill="#fff" stroke="#000" stroke-width="1.3"/>
<path d="M773.22 990.50L783.32 1000.60L773.22 1010.70L763.12 1000.60Z" fill="#fff" stroke="#000" stroke-width="1.3" stroke-linejoin="miter"/>
<circle cx="844.13" cy="973.40" r="7.3" fill="#fff" stroke="#000" stroke-width="1.3"/>
<path d="M886.67 976.60L896.77 986.70L886.67 996.80L876.57 986.70Z" fill="#fff" stroke="#000" stroke-width="1.3" stroke-linejoin="miter"/>
<circle cx="957.58" cy="970.20" r="7.3" fill="#fff" stroke="#000" stroke-width="1.3"/>
<path d="M1000.12 960.10L1010.22 970.20L1000.12 980.30L990.02 970.20Z" fill="#fff" stroke="#000" stroke-width="1.3" stroke-linejoin="miter"/>
<circle cx="1071.03" cy="975.00" r="7.3" fill="#fff" stroke="#000" stroke-width="1.3"/>
<path d="M1113.57 951.20L1123.67 961.30L1113.57 971.40L1103.47 961.30Z" fill="#fff" stroke="#000" stroke-width="1.3" stroke-linejoin="miter"/>
<circle cx="1184.48" cy="975.90" r="7.3" fill="#fff" stroke="#000" stroke-width="1.3"/>
<path d="M1227.02 969.00L1237.12 979.10L1227.02 989.20L1216.92 979.10Z" fill="#fff" stroke="#000" stroke-width="1.3" stroke-linejoin="miter"/>
<circle cx="163.43" cy="1114.30" r="7.3" fill="#1f77b4" stroke="#000" stroke-width="1.3"/>
<path d="M205.97 1104.20L216.07 1114.30L205.97 1124.40L195.87 1114.30Z" fill="#ff7f0e" stroke="#000" stroke-width="1.3" stroke-linejoin="miter"/>
<circle cx="276.88" cy="1107.40" r="7.3" fill="#1f77b4" stroke="#000" stroke-width="1.3"/>
<path d="M319.42 1097.30L329.52 1107.40L319.42 1117.50L309.32 1107.40Z" fill="#ff7f0e" stroke="#000" stroke-width="1.3" stroke-linejoin="miter"/>
<circle cx="390.33" cy="1101.20" r="7.3" fill="#1f77b4" stroke="#000" stroke-width="1.3"/>
<path d="M432.87 1091.10L442.97 1101.20L432.87 1111.30L422.77 1101.20Z" fill="#ff7f0e" stroke="#000" stroke-width="1.3" stroke-linejoin="miter"/>
<circle cx="503.78" cy="1094.50" r="7.3" fill="#1f77b4" stroke="#000" stroke-width="1.3"/>
<path d="M546.32 1084.40L556.42 1094.50L546.32 1104.60L536.22 1094.50Z" fill="#ff7f0e" stroke="#000" stroke-width="1.3" stroke-linejoin="miter"/>
<circle cx="617.23" cy="1087.90" r="7.3" fill="#1f77b4" stroke="#000" stroke-width="1.3"/>
<path d="M659.77 1077.80L669.87 1087.90L659.77 1098.00L649.67 1087.90Z" fill="#ff7f0e" stroke="#000" stroke-width="1.3" stroke-linejoin="miter"/>
<circle cx="730.68" cy="1081.80" r="7.3" fill="#1f77b4" stroke="#000" stroke-width="1.3"/>
<path d="M773.22 1071.70L783.32 1081.80L773.22 1091.90L763.12 1081.80Z" fill="#ff7f0e" stroke="#000" stroke-width="1.3" stroke-linejoin="miter"/>
<circle cx="844.13" cy="1075.00" r="7.3" fill="#1f77b4" stroke="#000" stroke-width="1.3"/>
<path d="M886.67 1064.90L896.77 1075.00L886.67 1085.10L876.57 1075.00Z" fill="#ff7f0e" stroke="#000" stroke-width="1.3" stroke-linejoin="miter"/>
<circle cx="957.58" cy="1068.50" r="7.3" fill="#1f77b4" stroke="#000" stroke-width="1.3"/>
<path d="M1000.12 1058.40L1010.22 1068.50L1000.12 1078.60L990.02 1068.50Z" fill="#ff7f0e" stroke="#000" stroke-width="1.3" stroke-linejoin="miter"/>
<circle cx="1071.03" cy="1061.90" r="7.3" fill="#1f77b4" stroke="#000" stroke-width="1.3"/>
<path d="M1113.57 1051.70L1123.67 1061.80L1113.57 1071.90L1103.47 1061.80Z" fill="#ff7f0e" stroke="#000" stroke-width="1.3" stroke-linejoin="miter"/>
<circle cx="1184.48" cy="1055.50" r="7.3" fill="#1f77b4" stroke="#000" stroke-width="1.3"/>
<path d="M1227.02 1045.80L1237.12 1055.90L1227.02 1066.00L1216.92 1055.90Z" fill="#ff7f0e" stroke="#000" stroke-width="1.3" stroke-linejoin="miter"/>
<rect x="91.7" y="907.5" width="1206.7" height="245.79999999999995" fill="none" stroke="#000" stroke-width="1.05"/>
<line x1="184.70" y1="1153.3" x2="184.70" y2="1156.8" stroke="#000" stroke-width="1.1"/>
<text x="177.15" y="1176.00" font-size="24.43" textLength="15.27" lengthAdjust="spacingAndGlyphs">4</text>
<line x1="298.15" y1="1153.3" x2="298.15" y2="1156.8" stroke="#000" stroke-width="1.1"/>
<text x="290.64" y="1176.00" font-size="24.43" textLength="15.27" lengthAdjust="spacingAndGlyphs">5</text>
<line x1="411.60" y1="1153.3" x2="411.60" y2="1156.8" stroke="#000" stroke-width="1.1"/>
<text x="403.88" y="1176.00" font-size="24.43" textLength="15.27" lengthAdjust="spacingAndGlyphs">6</text>
<line x1="525.05" y1="1153.3" x2="525.05" y2="1156.8" stroke="#000" stroke-width="1.1"/>
<text x="517.46" y="1176.00" font-size="24.43" textLength="15.27" lengthAdjust="spacingAndGlyphs">7</text>
<line x1="638.50" y1="1153.3" x2="638.50" y2="1156.8" stroke="#000" stroke-width="1.1"/>
<text x="630.87" y="1176.00" font-size="24.43" textLength="15.27" lengthAdjust="spacingAndGlyphs">8</text>
<line x1="751.95" y1="1153.3" x2="751.95" y2="1156.8" stroke="#000" stroke-width="1.1"/>
<text x="744.40" y="1176.00" font-size="24.43" textLength="15.27" lengthAdjust="spacingAndGlyphs">9</text>
<line x1="865.40" y1="1153.3" x2="865.40" y2="1156.8" stroke="#000" stroke-width="1.1"/>
<text x="849.61" y="1176.00" font-size="24.43" textLength="30.54" lengthAdjust="spacingAndGlyphs">10</text>
<line x1="978.85" y1="1153.3" x2="978.85" y2="1156.8" stroke="#000" stroke-width="1.1"/>
<text x="963.37" y="1176.00" font-size="24.43" textLength="30.54" lengthAdjust="spacingAndGlyphs">11</text>
<line x1="1092.30" y1="1153.3" x2="1092.30" y2="1156.8" stroke="#000" stroke-width="1.1"/>
<text x="1076.91" y="1176.00" font-size="24.43" textLength="30.54" lengthAdjust="spacingAndGlyphs">12</text>
<line x1="1205.75" y1="1153.3" x2="1205.75" y2="1156.8" stroke="#000" stroke-width="1.1"/>
<text x="1190.12" y="1176.00" font-size="24.43" textLength="30.54" lengthAdjust="spacingAndGlyphs">13</text>
<line x1="88.2" y1="1153.30" x2="91.7" y2="1153.30" stroke="#000" stroke-width="1.1"/>
<text x="44.56" y="1162.20" font-size="24.43" textLength="30.54" lengthAdjust="spacingAndGlyphs">10</text>
<text x="73.05" y="1153.10" font-size="17.10" textLength="10.69" lengthAdjust="spacingAndGlyphs">1</text>
<line x1="89.7" y1="1128.64" x2="91.7" y2="1128.64" stroke="#000" stroke-width="0.6"/>
<line x1="89.7" y1="1114.21" x2="91.7" y2="1114.21" stroke="#000" stroke-width="0.6"/>
<line x1="89.7" y1="1103.97" x2="91.7" y2="1103.97" stroke="#000" stroke-width="0.6"/>
<line x1="89.7" y1="1096.03" x2="91.7" y2="1096.03" stroke="#000" stroke-width="0.6"/>
<line x1="89.7" y1="1089.54" x2="91.7" y2="1089.54" stroke="#000" stroke-width="0.6"/>
<line x1="89.7" y1="1084.06" x2="91.7" y2="1084.06" stroke="#000" stroke-width="0.6"/>
<line x1="89.7" y1="1079.31" x2="91.7" y2="1079.31" stroke="#000" stroke-width="0.6"/>
<line x1="89.7" y1="1075.12" x2="91.7" y2="1075.12" stroke="#000" stroke-width="0.6"/>
<line x1="88.2" y1="1071.37" x2="91.7" y2="1071.37" stroke="#000" stroke-width="1.1"/>
<text x="44.56" y="1080.27" font-size="24.43" textLength="30.54" lengthAdjust="spacingAndGlyphs">10</text>
<text x="73.67" y="1071.17" font-size="17.10" textLength="10.69" lengthAdjust="spacingAndGlyphs">2</text>
<line x1="89.7" y1="1046.70" x2="91.7" y2="1046.70" stroke="#000" stroke-width="0.6"/>
<line x1="89.7" y1="1032.27" x2="91.7" y2="1032.27" stroke="#000" stroke-width="0.6"/>
<line x1="89.7" y1="1022.04" x2="91.7" y2="1022.04" stroke="#000" stroke-width="0.6"/>
<line x1="89.7" y1="1014.10" x2="91.7" y2="1014.10" stroke="#000" stroke-width="0.6"/>
<line x1="89.7" y1="1007.61" x2="91.7" y2="1007.61" stroke="#000" stroke-width="0.6"/>
<line x1="89.7" y1="1002.12" x2="91.7" y2="1002.12" stroke="#000" stroke-width="0.6"/>
<line x1="89.7" y1="997.37" x2="91.7" y2="997.37" stroke="#000" stroke-width="0.6"/>
<line x1="89.7" y1="993.18" x2="91.7" y2="993.18" stroke="#000" stroke-width="0.6"/>
<line x1="88.2" y1="989.43" x2="91.7" y2="989.43" stroke="#000" stroke-width="1.1"/>
<text x="44.56" y="998.33" font-size="24.43" textLength="30.54" lengthAdjust="spacingAndGlyphs">10</text>
<text x="73.62" y="989.23" font-size="17.10" textLength="10.69" lengthAdjust="spacingAndGlyphs">3</text>
<line x1="89.7" y1="964.77" x2="91.7" y2="964.77" stroke="#000" stroke-width="0.6"/>
<line x1="89.7" y1="950.34" x2="91.7" y2="950.34" stroke="#000" stroke-width="0.6"/>
<line x1="89.7" y1="940.10" x2="91.7" y2="940.10" stroke="#000" stroke-width="0.6"/>
<line x1="89.7" y1="932.16" x2="91.7" y2="932.16" stroke="#000" stroke-width="0.6"/>
<line x1="89.7" y1="925.68" x2="91.7" y2="925.68" stroke="#000" stroke-width="0.6"/>
<line x1="89.7" y1="920.19" x2="91.7" y2="920.19" stroke="#000" stroke-width="0.6"/>
<line x1="89.7" y1="915.44" x2="91.7" y2="915.44" stroke="#000" stroke-width="0.6"/>
<line x1="89.7" y1="911.25" x2="91.7" y2="911.25" stroke="#000" stroke-width="0.6"/>
<line x1="88.2" y1="907.50" x2="91.7" y2="907.50" stroke="#000" stroke-width="1.1"/>
<text x="44.56" y="916.40" font-size="24.43" textLength="30.54" lengthAdjust="spacingAndGlyphs">10</text>
<text x="74.08" y="907.30" font-size="17.10" textLength="10.69" lengthAdjust="spacingAndGlyphs">4</text>
<line x1="1298.4" y1="1153.30" x2="1301.9" y2="1153.30" stroke="#000" stroke-width="1.1"/>
<text x="1304.22" y="1163.00" font-size="24.43" textLength="15.27" lengthAdjust="spacingAndGlyphs">0</text>
<line x1="1298.4" y1="1102.09" x2="1301.9" y2="1102.09" stroke="#000" stroke-width="1.1"/>
<text x="1304.04" y="1111.79" font-size="24.43" textLength="30.54" lengthAdjust="spacingAndGlyphs">25</text>
<line x1="1298.4" y1="1050.88" x2="1301.9" y2="1050.88" stroke="#000" stroke-width="1.1"/>
<text x="1303.95" y="1060.58" font-size="24.43" textLength="30.54" lengthAdjust="spacingAndGlyphs">50</text>
<line x1="1298.4" y1="999.67" x2="1301.9" y2="999.67" stroke="#000" stroke-width="1.1"/>
<text x="1303.83" y="1009.38" font-size="24.43" textLength="30.54" lengthAdjust="spacingAndGlyphs">75</text>
<line x1="1298.4" y1="948.47" x2="1301.9" y2="948.47" stroke="#000" stroke-width="1.1"/>
<text x="1303.16" y="958.17" font-size="24.43" textLength="45.81" lengthAdjust="spacingAndGlyphs">100</text>
<text x="625.93" y="902.30" font-size="30.54" textLength="137.86" lengthAdjust="spacingAndGlyphs">Schedule</text>
</g>
<g>
<clipPath id="clip5_1214"><rect x="91.7" y="1214.5" width="1206.7" height="245.70000000000005"/></clipPath>
<g clip-path="url(#clip5_1214)">
<rect x="146.35" y="1452.70" width="49.33" height="10.50" fill="none" stroke="#5991bf" stroke-width="2.5"/>
<rect x="310.80" y="1400.50" width="49.33" height="62.70" fill="none" stroke="#5991bf" stroke-width="2.5"/>
<rect x="372.47" y="1419.70" width="49.33" height="43.50" fill="none" stroke="#f3a052" stroke-width="2.5"/>
<rect x="475.25" y="1346.40" width="49.33" height="116.80" fill="none" stroke="#5991bf" stroke-width="2.5"/>
<rect x="536.92" y="1377.50" width="49.33" height="85.70" fill="none" stroke="#f3a052" stroke-width="2.5"/>
<rect x="639.70" y="1298.50" width="49.33" height="164.70" fill="none" stroke="#5991bf" stroke-width="2.5"/>
<rect x="701.37" y="1335.30" width="49.33" height="127.90" fill="none" stroke="#f3a052" stroke-width="2.5"/>
<rect x="804.15" y="1241.40" width="49.33" height="221.80" fill="none" stroke="#5991bf" stroke-width="2.5"/>
<rect x="865.82" y="1296.30" width="49.33" height="166.90" fill="none" stroke="#f3a052" stroke-width="2.5"/>
<rect x="968.60" y="1226.60" width="49.33" height="236.60" fill="none" stroke="#5991bf" stroke-width="2.5"/>
<rect x="1030.27" y="1253.40" width="49.33" height="209.80" fill="none" stroke="#f3a052" stroke-width="2.5"/>
<rect x="1133.05" y="1227.60" width="49.33" height="235.60" fill="none" stroke="#5991bf" stroke-width="2.5"/>
<rect x="1194.72" y="1227.60" width="49.33" height="235.60" fill="none" stroke="#f3a052" stroke-width="2.5"/>
<rect x="323.13" y="1448.70" width="24.67" height="11.50" fill="#1f77b4"/>
<rect x="384.80" y="1424.60" width="24.67" height="35.60" fill="#ff7f0e"/>
<rect x="487.58" y="1400.50" width="24.67" height="59.70" fill="#1f77b4"/>
<rect x="549.25" y="1382.90" width="24.67" height="77.30" fill="#ff7f0e"/>
<rect x="652.03" y="1356.90" width="24.67" height="103.30" fill="#1f77b4"/>
<rect x="713.70" y="1340.70" width="24.67" height="119.50" fill="#ff7f0e"/>
<rect x="816.48" y="1309.70" width="24.67" height="150.50" fill="#1f77b4"/>
<rect x="878.15" y="1298.00" width="24.67" height="162.20" fill="#ff7f0e"/>
<rect x="980.93" y="1250.10" width="24.67" height="210.10" fill="#1f77b4"/>
<rect x="1042.60" y="1258.80" width="24.67" height="201.40" fill="#ff7f0e"/>
<rect x="1145.38" y="1226.60" width="24.67" height="233.60" fill="#1f77b4"/>
<rect x="1207.05" y="1226.60" width="24.67" height="233.60" fill="#ff7f0e"/>
<line x1="171.02" y1="1447.00" x2="171.02" y2="1462.00" stroke="#000" stroke-width="1.1"/>
<line x1="335.47" y1="1393.60" x2="335.47" y2="1408.50" stroke="#000" stroke-width="1.1"/>
<line x1="335.47" y1="1442.00" x2="335.47" y2="1455.60" stroke="#000" stroke-width="1.1"/>
<line x1="397.13" y1="1418.00" x2="397.13" y2="1430.80" stroke="#000" stroke-width="1.1"/>
<line x1="499.92" y1="1340.20" x2="499.92" y2="1354.40" stroke="#000" stroke-width="1.1"/>
<line x1="561.58" y1="1371.30" x2="561.58" y2="1383.00" stroke="#000" stroke-width="1.1"/>
<line x1="499.92" y1="1393.60" x2="499.92" y2="1407.20" stroke="#000" stroke-width="1.1"/>
<line x1="561.58" y1="1376.00" x2="561.58" y2="1388.60" stroke="#000" stroke-width="1.1"/>
<line x1="664.37" y1="1294.30" x2="664.37" y2="1302.30" stroke="#000" stroke-width="1.1"/>
<line x1="726.03" y1="1330.30" x2="726.03" y2="1340.00" stroke="#000" stroke-width="1.1"/>
<line x1="664.37" y1="1350.20" x2="664.37" y2="1361.80" stroke="#000" stroke-width="1.1"/>
<line x1="726.03" y1="1335.00" x2="726.03" y2="1344.50" stroke="#000" stroke-width="1.1"/>
<line x1="828.82" y1="1235.20" x2="828.82" y2="1248.40" stroke="#000" stroke-width="1.1"/>
<line x1="890.48" y1="1291.80" x2="890.48" y2="1302.30" stroke="#000" stroke-width="1.1"/>
<line x1="828.82" y1="1302.30" x2="828.82" y2="1317.90" stroke="#000" stroke-width="1.1"/>
<line x1="890.48" y1="1292.00" x2="890.48" y2="1302.00" stroke="#000" stroke-width="1.1"/>
<line x1="1054.93" y1="1248.40" x2="1054.93" y2="1263.30" stroke="#000" stroke-width="1.1"/>
<line x1="993.27" y1="1245.40" x2="993.27" y2="1253.40" stroke="#000" stroke-width="1.1"/>
<line x1="1054.93" y1="1252.00" x2="1054.93" y2="1265.00" stroke="#000" stroke-width="1.1"/>
<line x1="1157.72" y1="1224.40" x2="1157.72" y2="1231.30" stroke="#000" stroke-width="1.1"/>
<line x1="1219.38" y1="1224.40" x2="1219.38" y2="1231.30" stroke="#000" stroke-width="1.1"/>
</g>
<path d="M232.68 1411.20L242.78 1421.30L232.68 1431.40L222.58 1421.30Z" fill="#fff" stroke="#000" stroke-width="1.3" stroke-linejoin="miter"/>
<path d="M561.58 1396.40L571.68 1406.50L561.58 1416.60L551.48 1406.50Z" fill="#fff" stroke="#000" stroke-width="1.3" stroke-linejoin="miter"/>
<path d="M726.03 1389.70L736.13 1399.80L726.03 1409.90L715.93 1399.80Z" fill="#fff" stroke="#000" stroke-width="1.3" stroke-linejoin="miter"/>
<path d="M890.48 1387.20L900.58 1397.30L890.48 1407.40L880.38 1397.30Z" fill="#fff" stroke="#000" stroke-width="1.3" stroke-linejoin="miter"/>
<circle cx="993.27" cy="1404.30" r="7.3" fill="#fff" stroke="#000" stroke-width="1.3"/>
<path d="M1054.93 1383.50L1065.03 1393.60L1054.93 1403.70L1044.83 1393.60Z" fill="#fff" stroke="#000" stroke-width="1.3" stroke-linejoin="miter"/>
<circle cx="171.02" cy="1427.90" r="7.3" fill="#1f77b4" stroke="#000" stroke-width="1.3"/>
<path d="M232.68 1402.40L242.78 1412.50L232.68 1422.60L222.58 1412.50Z" fill="#ff7f0e" stroke="#000" stroke-width="1.3" stroke-linejoin="miter"/>
<circle cx="335.47" cy="1423.40" r="7.3" fill="#1f77b4" stroke="#000" stroke-width="1.3"/>
<path d="M397.13 1404.60L407.23 1414.70L397.13 1424.80L387.03 1414.70Z" fill="#ff7f0e" stroke="#000" stroke-width="1.3" stroke-linejoin="miter"/>
<circle cx="499.92" cy="1418.90" r="7.3" fill="#1f77b4" stroke="#000" stroke-width="1.3"/>
<path d="M561.58 1402.10L571.68 1412.20L561.58 1422.30L551.48 1412.20Z" fill="#ff7f0e" stroke="#000" stroke-width="1.3" stroke-linejoin="miter"/>
<circle cx="664.37" cy="1414.70" r="7.3" fill="#1f77b4" stroke="#000" stroke-width="1.3"/>
<path d="M726.03 1395.90L736.13 1406.00L726.03 1416.10L715.93 1406.00Z" fill="#ff7f0e" stroke="#000" stroke-width="1.3" stroke-linejoin="miter"/>
<circle cx="828.82" cy="1410.20" r="7.3" fill="#1f77b4" stroke="#000" stroke-width="1.3"/>
<path d="M890.48 1392.90L900.58 1403.00L890.48 1413.10L880.38 1403.00Z" fill="#ff7f0e" stroke="#000" stroke-width="1.3" stroke-linejoin="miter"/>
<circle cx="993.27" cy="1406.00" r="7.3" fill="#1f77b4" stroke="#000" stroke-width="1.3"/>
<path d="M1054.93 1389.70L1065.03 1399.80L1054.93 1409.90L1044.83 1399.80Z" fill="#ff7f0e" stroke="#000" stroke-width="1.3" stroke-linejoin="miter"/>
<circle cx="1157.72" cy="1263.50" r="7.3" fill="#1f77b4" stroke="#000" stroke-width="1.3"/>
<path d="M1219.38 1252.70L1229.48 1262.80L1219.38 1272.90L1209.28 1262.80Z" fill="#ff7f0e" stroke="#000" stroke-width="1.3" stroke-linejoin="miter"/>
<rect x="91.7" y="1214.5" width="1206.7" height="245.70000000000005" fill="none" stroke="#000" stroke-width="1.05"/>
<line x1="201.85" y1="1460.2" x2="201.85" y2="1463.7" stroke="#000" stroke-width="1.1"/>
<text x="194.34" y="1482.90" font-size="24.43" textLength="15.27" lengthAdjust="spacingAndGlyphs">5</text>
<line x1="366.30" y1="1460.2" x2="366.30" y2="1463.7" stroke="#000" stroke-width="1.1"/>
<text x="358.58" y="1482.90" font-size="24.43" textLength="15.27" lengthAdjust="spacingAndGlyphs">6</text>
<line x1="530.75" y1="1460.2" x2="530.75" y2="1463.7" stroke="#000" stroke-width="1.1"/>
<text x="523.16" y="1482.90" font-size="24.43" textLength="15.27" lengthAdjust="spacingAndGlyphs">7</text>
<line x1="695.20" y1="1460.2" x2="695.20" y2="1463.7" stroke="#000" stroke-width="1.1"/>
<text x="687.57" y="1482.90" font-size="24.43" textLength="15.27" lengthAdjust="spacingAndGlyphs">8</text>
<line x1="859.65" y1="1460.2" x2="859.65" y2="1463.7" stroke="#000" stroke-width="1.1"/>
<text x="852.10" y="1482.90" font-size="24.43" textLength="15.27" lengthAdjust="spacingAndGlyphs">9</text>
<line x1="1024.10" y1="1460.2" x2="1024.10" y2="1463.7" stroke="#000" stroke-width="1.1"/>
<text x="1008.31" y="1482.90" font-size="24.43" textLength="30.54" lengthAdjust="spacingAndGlyphs">10</text>
<line x1="1188.55" y1="1460.2" x2="1188.55" y2="1463.7" stroke="#000" stroke-width="1.1"/>
<text x="1173.07" y="1482.90" font-size="24.43" textLength="30.54" lengthAdjust="spacingAndGlyphs">11</text>
<line x1="88.2" y1="1460.20" x2="91.7" y2="1460.20" stroke="#000" stroke-width="1.1"/>
<text x="44.56" y="1469.10" font-size="24.43" textLength="30.54" lengthAdjust="spacingAndGlyphs">10</text>
<text x="73.05" y="1460.00" font-size="17.10" textLength="10.69" lengthAdjust="spacingAndGlyphs">1</text>
<line x1="89.7" y1="1435.55" x2="91.7" y2="1435.55" stroke="#000" stroke-width="0.6"/>
<line x1="89.7" y1="1421.12" x2="91.7" y2="1421.12" stroke="#000" stroke-width="0.6"/>
<line x1="89.7" y1="1410.89" x2="91.7" y2="1410.89" stroke="#000" stroke-width="0.6"/>
<line x1="89.7" y1="1402.95" x2="91.7" y2="1402.95" stroke="#000" stroke-width="0.6"/>
<line x1="89.7" y1="1396.47" x2="91.7" y2="1396.47" stroke="#000" stroke-width="0.6"/>
<line x1="89.7" y1="1390.99" x2="91.7" y2="1390.99" stroke="#000" stroke-width="0.6"/>
<line x1="89.7" y1="1386.24" x2="91.7" y2="1386.24" stroke="#000" stroke-width="0.6"/>
<line x1="89.7" y1="1382.05" x2="91.7" y2="1382.05" stroke="#000" stroke-width="0.6"/>
<line x1="88.2" y1="1378.30" x2="91.7" y2="1378.30" stroke="#000" stroke-width="1.1"/>
<text x="44.56" y="1387.20" font-size="24.43" textLength="30.54" lengthAdjust="spacingAndGlyphs">10</text>
<text x="73.67" y="1378.10" font-size="17.10" textLength="10.69" lengthAdjust="spacingAndGlyphs">2</text>
<line x1="89.7" y1="1353.65" x2="91.7" y2="1353.65" stroke="#000" stroke-width="0.6"/>
<line x1="89.7" y1="1339.22" x2="91.7" y2="1339.22" stroke="#000" stroke-width="0.6"/>
<line x1="89.7" y1="1328.99" x2="91.7" y2="1328.99" stroke="#000" stroke-width="0.6"/>
<line x1="89.7" y1="1321.05" x2="91.7" y2="1321.05" stroke="#000" stroke-width="0.6"/>
<line x1="89.7" y1="1314.57" x2="91.7" y2="1314.57" stroke="#000" stroke-width="0.6"/>
<line x1="89.7" y1="1309.09" x2="91.7" y2="1309.09" stroke="#000" stroke-width="0.6"/>
<line x1="89.7" y1="1304.34" x2="91.7" y2="1304.34" stroke="#000" stroke-width="0.6"/>
<line x1="89.7" y1="1300.15" x2="91.7" y2="1300.15" stroke="#000" stroke-width="0.6"/>
<line x1="88.2" y1="1296.40" x2="91.7" y2="1296.40" stroke="#000" stroke-width="1.1"/>
<text x="44.56" y="1305.30" font-size="24.43" textLength="30.54" lengthAdjust="spacingAndGlyphs">10</text>
<text x="73.62" y="1296.20" font-size="17.10" textLength="10.69" lengthAdjust="spacingAndGlyphs">3</text>
<line x1="89.7" y1="1271.75" x2="91.7" y2="1271.75" stroke="#000" stroke-width="0.6"/>
<line x1="89.7" y1="1257.32" x2="91.7" y2="1257.32" stroke="#000" stroke-width="0.6"/>
<line x1="89.7" y1="1247.09" x2="91.7" y2="1247.09" stroke="#000" stroke-width="0.6"/>
<line x1="89.7" y1="1239.15" x2="91.7" y2="1239.15" stroke="#000" stroke-width="0.6"/>
<line x1="89.7" y1="1232.67" x2="91.7" y2="1232.67" stroke="#000" stroke-width="0.6"/>
<line x1="89.7" y1="1227.19" x2="91.7" y2="1227.19" stroke="#000" stroke-width="0.6"/>
<line x1="89.7" y1="1222.44" x2="91.7" y2="1222.44" stroke="#000" stroke-width="0.6"/>
<line x1="89.7" y1="1218.25" x2="91.7" y2="1218.25" stroke="#000" stroke-width="0.6"/>
<line x1="88.2" y1="1214.50" x2="91.7" y2="1214.50" stroke="#000" stroke-width="1.1"/>
<text x="44.56" y="1223.40" font-size="24.43" textLength="30.54" lengthAdjust="spacingAndGlyphs">10</text>
<text x="74.08" y="1214.30" font-size="17.10" textLength="10.69" lengthAdjust="spacingAndGlyphs">4</text>
<line x1="1298.4" y1="1460.20" x2="1301.9" y2="1460.20" stroke="#000" stroke-width="1.1"/>
<text x="1304.22" y="1469.90" font-size="24.43" textLength="15.27" lengthAdjust="spacingAndGlyphs">0</text>
<line x1="1298.4" y1="1409.01" x2="1301.9" y2="1409.01" stroke="#000" stroke-width="1.1"/>
<text x="1304.04" y="1418.71" font-size="24.43" textLength="30.54" lengthAdjust="spacingAndGlyphs">25</text>
<line x1="1298.4" y1="1357.83" x2="1301.9" y2="1357.83" stroke="#000" stroke-width="1.1"/>
<text x="1303.95" y="1367.53" font-size="24.43" textLength="30.54" lengthAdjust="spacingAndGlyphs">50</text>
<line x1="1298.4" y1="1306.64" x2="1301.9" y2="1306.64" stroke="#000" stroke-width="1.1"/>
<text x="1303.83" y="1316.34" font-size="24.43" textLength="30.54" lengthAdjust="spacingAndGlyphs">75</text>
<line x1="1298.4" y1="1255.45" x2="1301.9" y2="1255.45" stroke="#000" stroke-width="1.1"/>
<text x="1303.16" y="1265.15" font-size="24.43" textLength="45.81" lengthAdjust="spacingAndGlyphs">100</text>
<text x="601.48" y="1209.30" font-size="30.54" textLength="186.75" lengthAdjust="spacingAndGlyphs">Delicate can</text>
</g>
<g>
<clipPath id="clip5_1521"><rect x="91.7" y="1521.6" width="1206.7" height="245.80000000000018"/></clipPath>
<g clip-path="url(#clip5_1521)">
<rect x="310.80" y="1755.20" width="49.33" height="15.20" fill="none" stroke="#5991bf" stroke-width="2.5"/>
<rect x="372.47" y="1746.50" width="49.33" height="23.90" fill="none" stroke="#f3a052" stroke-width="2.5"/>
<rect x="475.25" y="1723.40" width="49.33" height="47.00" fill="none" stroke="#5991bf" stroke-width="2.5"/>
<rect x="536.92" y="1714.00" width="49.33" height="56.40" fill="none" stroke="#f3a052" stroke-width="2.5"/>
<rect x="639.70" y="1682.40" width="49.33" height="88.00" fill="none" stroke="#5991bf" stroke-width="2.5"/>
<rect x="701.37" y="1665.00" width="49.33" height="105.40" fill="none" stroke="#f3a052" stroke-width="2.5"/>
<rect x="804.15" y="1650.20" width="49.33" height="120.20" fill="none" stroke="#5991bf" stroke-width="2.5"/>
<rect x="865.82" y="1636.50" width="49.33" height="133.90" fill="none" stroke="#f3a052" stroke-width="2.5"/>
<rect x="968.60" y="1608.50" width="49.33" height="161.90" fill="none" stroke="#5991bf" stroke-width="2.5"/>
<rect x="1030.27" y="1595.60" width="49.33" height="174.80" fill="none" stroke="#f3a052" stroke-width="2.5"/>
<rect x="1133.05" y="1578.20" width="49.33" height="192.20" fill="none" stroke="#5991bf" stroke-width="2.5"/>
<rect x="1194.72" y="1565.20" width="49.33" height="205.20" fill="none" stroke="#f3a052" stroke-width="2.5"/>
<rect x="323.13" y="1747.70" width="24.67" height="19.70" fill="#1f77b4"/>
<rect x="384.80" y="1740.00" width="24.67" height="27.40" fill="#ff7f0e"/>
<rect x="487.58" y="1719.70" width="24.67" height="47.70" fill="#1f77b4"/>
<rect x="549.25" y="1706.50" width="24.67" height="60.90" fill="#ff7f0e"/>
<rect x="652.03" y="1675.70" width="24.67" height="91.70" fill="#1f77b4"/>
<rect x="713.70" y="1663.80" width="24.67" height="103.60" fill="#ff7f0e"/>
<rect x="816.48" y="1639.70" width="24.67" height="127.70" fill="#1f77b4"/>
<rect x="878.15" y="1631.50" width="24.67" height="135.90" fill="#ff7f0e"/>
<rect x="980.93" y="1602.50" width="24.67" height="164.90" fill="#1f77b4"/>
<rect x="1042.60" y="1589.40" width="24.67" height="178.00" fill="#ff7f0e"/>
<rect x="1145.38" y="1571.80" width="24.67" height="195.60" fill="#1f77b4"/>
<rect x="1207.05" y="1559.50" width="24.67" height="207.90" fill="#ff7f0e"/>
<line x1="335.47" y1="1740.80" x2="335.47" y2="1763.10" stroke="#000" stroke-width="1.1"/>
<line x1="397.13" y1="1732.00" x2="397.13" y2="1750.70" stroke="#000" stroke-width="1.1"/>
<line x1="499.92" y1="1710.00" x2="499.92" y2="1732.80" stroke="#000" stroke-width="1.1"/>
<line x1="561.58" y1="1699.30" x2="561.58" y2="1716.00" stroke="#000" stroke-width="1.1"/>
<line x1="664.37" y1="1670.00" x2="664.37" y2="1689.10" stroke="#000" stroke-width="1.1"/>
<line x1="726.03" y1="1658.40" x2="726.03" y2="1673.20" stroke="#000" stroke-width="1.1"/>
<line x1="828.82" y1="1634.50" x2="828.82" y2="1654.40" stroke="#000" stroke-width="1.1"/>
<line x1="890.48" y1="1625.30" x2="890.48" y2="1643.50" stroke="#000" stroke-width="1.1"/>
<line x1="993.27" y1="1597.50" x2="993.27" y2="1617.90" stroke="#000" stroke-width="1.1"/>
<line x1="1054.93" y1="1584.40" x2="1054.93" y2="1604.70" stroke="#000" stroke-width="1.1"/>
<line x1="1157.72" y1="1566.30" x2="1157.72" y2="1584.40" stroke="#000" stroke-width="1.1"/>
<line x1="1219.38" y1="1553.40" x2="1219.38" y2="1571.30" stroke="#000" stroke-width="1.1"/>
</g>
<circle cx="171.02" cy="1729.60" r="7.3" fill="#1f77b4" stroke="#000" stroke-width="1.3"/>
<path d="M232.68 1719.50L242.78 1729.60L232.68 1739.70L222.58 1729.60Z" fill="#ff7f0e" stroke="#000" stroke-width="1.3" stroke-linejoin="miter"/>
<circle cx="335.47" cy="1720.40" r="7.3" fill="#1f77b4" stroke="#000" stroke-width="1.3"/>
<path d="M397.13 1710.30L407.23 1720.40L397.13 1730.50L387.03 1720.40Z" fill="#ff7f0e" stroke="#000" stroke-width="1.3" stroke-linejoin="miter"/>
<circle cx="499.92" cy="1716.00" r="7.3" fill="#1f77b4" stroke="#000" stroke-width="1.3"/>
<path d="M561.58 1705.90L571.68 1716.00L561.58 1726.10L551.48 1716.00Z" fill="#ff7f0e" stroke="#000" stroke-width="1.3" stroke-linejoin="miter"/>
<circle cx="664.37" cy="1707.50" r="7.3" fill="#1f77b4" stroke="#000" stroke-width="1.3"/>
<path d="M726.03 1697.40L736.13 1707.50L726.03 1717.60L715.93 1707.50Z" fill="#ff7f0e" stroke="#000" stroke-width="1.3" stroke-linejoin="miter"/>
<circle cx="828.82" cy="1703.00" r="7.3" fill="#1f77b4" stroke="#000" stroke-width="1.3"/>
<path d="M890.48 1692.90L900.58 1703.00L890.48 1713.10L880.38 1703.00Z" fill="#ff7f0e" stroke="#000" stroke-width="1.3" stroke-linejoin="miter"/>
<circle cx="993.27" cy="1694.30" r="7.3" fill="#1f77b4" stroke="#000" stroke-width="1.3"/>
<path d="M1054.93 1684.20L1065.03 1694.30L1054.93 1704.40L1044.83 1694.30Z" fill="#ff7f0e" stroke="#000" stroke-width="1.3" stroke-linejoin="miter"/>
<circle cx="1157.72" cy="1689.40" r="7.3" fill="#1f77b4" stroke="#000" stroke-width="1.3"/>
<path d="M1219.38 1679.30L1229.48 1689.40L1219.38 1699.50L1209.28 1689.40Z" fill="#ff7f0e" stroke="#000" stroke-width="1.3" stroke-linejoin="miter"/>
<rect x="91.7" y="1521.6" width="1206.7" height="245.80000000000018" fill="none" stroke="#000" stroke-width="1.05"/>
<line x1="201.85" y1="1767.4" x2="201.85" y2="1770.9" stroke="#000" stroke-width="1.1"/>
<text x="194.34" y="1790.10" font-size="24.43" textLength="15.27" lengthAdjust="spacingAndGlyphs">5</text>
<line x1="366.30" y1="1767.4" x2="366.30" y2="1770.9" stroke="#000" stroke-width="1.1"/>
<text x="358.58" y="1790.10" font-size="24.43" textLength="15.27" lengthAdjust="spacingAndGlyphs">6</text>
<line x1="530.75" y1="1767.4" x2="530.75" y2="1770.9" stroke="#000" stroke-width="1.1"/>
<text x="523.16" y="1790.10" font-size="24.43" textLength="15.27" lengthAdjust="spacingAndGlyphs">7</text>
<line x1="695.20" y1="1767.4" x2="695.20" y2="1770.9" stroke="#000" stroke-width="1.1"/>
<text x="687.57" y="1790.10" font-size="24.43" textLength="15.27" lengthAdjust="spacingAndGlyphs">8</text>
<line x1="859.65" y1="1767.4" x2="859.65" y2="1770.9" stroke="#000" stroke-width="1.1"/>
<text x="852.10" y="1790.10" font-size="24.43" textLength="15.27" lengthAdjust="spacingAndGlyphs">9</text>
<line x1="1024.10" y1="1767.4" x2="1024.10" y2="1770.9" stroke="#000" stroke-width="1.1"/>
<text x="1008.31" y="1790.10" font-size="24.43" textLength="30.54" lengthAdjust="spacingAndGlyphs">10</text>
<line x1="1188.55" y1="1767.4" x2="1188.55" y2="1770.9" stroke="#000" stroke-width="1.1"/>
<text x="1173.07" y="1790.10" font-size="24.43" textLength="30.54" lengthAdjust="spacingAndGlyphs">11</text>
<line x1="88.2" y1="1767.40" x2="91.7" y2="1767.40" stroke="#000" stroke-width="1.1"/>
<text x="44.56" y="1776.30" font-size="24.43" textLength="30.54" lengthAdjust="spacingAndGlyphs">10</text>
<text x="73.05" y="1767.20" font-size="17.10" textLength="10.69" lengthAdjust="spacingAndGlyphs">1</text>
<line x1="89.7" y1="1742.74" x2="91.7" y2="1742.74" stroke="#000" stroke-width="0.6"/>
<line x1="89.7" y1="1728.31" x2="91.7" y2="1728.31" stroke="#000" stroke-width="0.6"/>
<line x1="89.7" y1="1718.07" x2="91.7" y2="1718.07" stroke="#000" stroke-width="0.6"/>
<line x1="89.7" y1="1710.13" x2="91.7" y2="1710.13" stroke="#000" stroke-width="0.6"/>
<line x1="89.7" y1="1703.64" x2="91.7" y2="1703.64" stroke="#000" stroke-width="0.6"/>
<line x1="89.7" y1="1698.16" x2="91.7" y2="1698.16" stroke="#000" stroke-width="0.6"/>
<line x1="89.7" y1="1693.41" x2="91.7" y2="1693.41" stroke="#000" stroke-width="0.6"/>
<line x1="89.7" y1="1689.22" x2="91.7" y2="1689.22" stroke="#000" stroke-width="0.6"/>
<line x1="88.2" y1="1685.47" x2="91.7" y2="1685.47" stroke="#000" stroke-width="1.1"/>
<text x="44.56" y="1694.37" font-size="24.43" textLength="30.54" lengthAdjust="spacingAndGlyphs">10</text>
<text x="73.67" y="1685.27" font-size="17.10" textLength="10.69" lengthAdjust="spacingAndGlyphs">2</text>
<line x1="89.7" y1="1660.80" x2="91.7" y2="1660.80" stroke="#000" stroke-width="0.6"/>
<line x1="89.7" y1="1646.37" x2="91.7" y2="1646.37" stroke="#000" stroke-width="0.6"/>
<line x1="89.7" y1="1636.14" x2="91.7" y2="1636.14" stroke="#000" stroke-width="0.6"/>
<line x1="89.7" y1="1628.20" x2="91.7" y2="1628.20" stroke="#000" stroke-width="0.6"/>
<line x1="89.7" y1="1621.71" x2="91.7" y2="1621.71" stroke="#000" stroke-width="0.6"/>
<line x1="89.7" y1="1616.22" x2="91.7" y2="1616.22" stroke="#000" stroke-width="0.6"/>
<line x1="89.7" y1="1611.47" x2="91.7" y2="1611.47" stroke="#000" stroke-width="0.6"/>
<line x1="89.7" y1="1607.28" x2="91.7" y2="1607.28" stroke="#000" stroke-width="0.6"/>
<line x1="88.2" y1="1603.53" x2="91.7" y2="1603.53" stroke="#000" stroke-width="1.1"/>
<text x="44.56" y="1612.43" font-size="24.43" textLength="30.54" lengthAdjust="spacingAndGlyphs">10</text>
<text x="73.62" y="1603.33" font-size="17.10" textLength="10.69" lengthAdjust="spacingAndGlyphs">3</text>
<line x1="89.7" y1="1578.87" x2="91.7" y2="1578.87" stroke="#000" stroke-width="0.6"/>
<line x1="89.7" y1="1564.44" x2="91.7" y2="1564.44" stroke="#000" stroke-width="0.6"/>
<line x1="89.7" y1="1554.20" x2="91.7" y2="1554.20" stroke="#000" stroke-width="0.6"/>
<line x1="89.7" y1="1546.26" x2="91.7" y2="1546.26" stroke="#000" stroke-width="0.6"/>
<line x1="89.7" y1="1539.78" x2="91.7" y2="1539.78" stroke="#000" stroke-width="0.6"/>
<line x1="89.7" y1="1534.29" x2="91.7" y2="1534.29" stroke="#000" stroke-width="0.6"/>
<line x1="89.7" y1="1529.54" x2="91.7" y2="1529.54" stroke="#000" stroke-width="0.6"/>
<line x1="89.7" y1="1525.35" x2="91.7" y2="1525.35" stroke="#000" stroke-width="0.6"/>
<line x1="88.2" y1="1521.60" x2="91.7" y2="1521.60" stroke="#000" stroke-width="1.1"/>
<text x="44.56" y="1530.50" font-size="24.43" textLength="30.54" lengthAdjust="spacingAndGlyphs">10</text>
<text x="74.08" y="1521.40" font-size="17.10" textLength="10.69" lengthAdjust="spacingAndGlyphs">4</text>
<line x1="1298.4" y1="1767.40" x2="1301.9" y2="1767.40" stroke="#000" stroke-width="1.1"/>
<text x="1304.22" y="1777.10" font-size="24.43" textLength="15.27" lengthAdjust="spacingAndGlyphs">0</text>
<line x1="1298.4" y1="1716.19" x2="1301.9" y2="1716.19" stroke="#000" stroke-width="1.1"/>
<text x="1304.04" y="1725.89" font-size="24.43" textLength="30.54" lengthAdjust="spacingAndGlyphs">25</text>
<line x1="1298.4" y1="1664.98" x2="1301.9" y2="1664.98" stroke="#000" stroke-width="1.1"/>
<text x="1303.95" y="1674.68" font-size="24.43" textLength="30.54" lengthAdjust="spacingAndGlyphs">50</text>
<line x1="1298.4" y1="1613.78" x2="1301.9" y2="1613.78" stroke="#000" stroke-width="1.1"/>
<text x="1303.83" y="1623.48" font-size="24.43" textLength="30.54" lengthAdjust="spacingAndGlyphs">75</text>
<line x1="1298.4" y1="1562.57" x2="1301.9" y2="1562.57" stroke="#000" stroke-width="1.1"/>
<text x="1303.16" y="1572.27" font-size="24.43" textLength="45.81" lengthAdjust="spacingAndGlyphs">100</text>
<text x="637.81" y="1516.40" font-size="30.54" textLength="112.79" lengthAdjust="spacingAndGlyphs">Gripper</text>
</g>
<text x="302.04" y="31.40" font-size="36.92" textLength="778.10" lengthAdjust="spacingAndGlyphs">Impact of GPA acceleration on SOA solvers</text>
<text x="166.79" y="84.90" font-size="30.23" textLength="83.60" lengthAdjust="spacingAndGlyphs">Time:</text>
<text x="166.33" y="193.10" font-size="30.23" textLength="76.03" lengthAdjust="spacingAndGlyphs">Cost:</text>
<rect x="318.1" y="60.2" width="59.9" height="20.6" fill="#1f77b4"/>
<rect x="317.5" y="102.8" width="60" height="20.7" fill="none" stroke="#5991bf" stroke-width="2.5"/>
<rect x="759.0" y="59.6" width="58.9" height="20.4" fill="#ff7f0e"/>
<rect x="758.6" y="102.7" width="60" height="20.7" fill="none" stroke="#f3a052" stroke-width="2.5"/>
<text x="400.33" y="79.90" font-size="30.23" textLength="303.61" lengthAdjust="spacingAndGlyphs">GPA + LRTDP (Ours)</text>
<text x="400.89" y="122.90" font-size="30.23" textLength="96.10" lengthAdjust="spacingAndGlyphs">LRTDP</text>
<text x="841.33" y="79.90" font-size="30.23" textLength="389.55" lengthAdjust="spacingAndGlyphs">GPA + Soft-FLARES (Ours)</text>
<text x="841.04" y="122.90" font-size="30.23" textLength="182.04" lengthAdjust="spacingAndGlyphs">Soft-FLARES</text>
<text x="400.33" y="187.90" font-size="30.23" textLength="303.61" lengthAdjust="spacingAndGlyphs">GPA + LRTDP (Ours)</text>
<text x="400.89" y="231.70" font-size="30.23" textLength="96.10" lengthAdjust="spacingAndGlyphs">LRTDP</text>
<text x="841.33" y="187.90" font-size="30.23" textLength="389.55" lengthAdjust="spacingAndGlyphs">GPA + Soft-FLARES (Ours)</text>
<text x="841.04" y="231.70" font-size="30.23" textLength="182.04" lengthAdjust="spacingAndGlyphs">Soft-FLARES</text>
<circle cx="347.40" cy="180.00" r="6.8" fill="#1f77b4" stroke="#000" stroke-width="1.3"/>
<circle cx="347.40" cy="224.10" r="6.8" fill="#fff" stroke="#000" stroke-width="1.3"/>
<path d="M788.50 170.40L798.10 180.00L788.50 189.60L778.90 180.00Z" fill="#ff7f0e" stroke="#000" stroke-width="1.3" stroke-linejoin="miter"/>
<path d="M788.50 214.50L798.10 224.10L788.50 233.70L778.90 224.10Z" fill="#fff" stroke="#000" stroke-width="1.3" stroke-linejoin="miter"/>
<text transform="translate(25.00,1021.80) rotate(-90)" x="-124.07" y="0" font-size="33.49" textLength="251.07" lengthAdjust="spacingAndGlyphs">Time(s) (in log)</text>
<text transform="translate(1367.90,1021.00) rotate(-90)" x="-37.10" y="0" font-size="33.49" textLength="73.14" lengthAdjust="spacingAndGlyphs">Cost</text>
<text x="219.77" y="1848.70" font-size="33.49" textLength="957.09" lengthAdjust="spacingAndGlyphs">Problem ID (larger IDs correspond to larger object counts)</text>
</svg>
</body></html>
